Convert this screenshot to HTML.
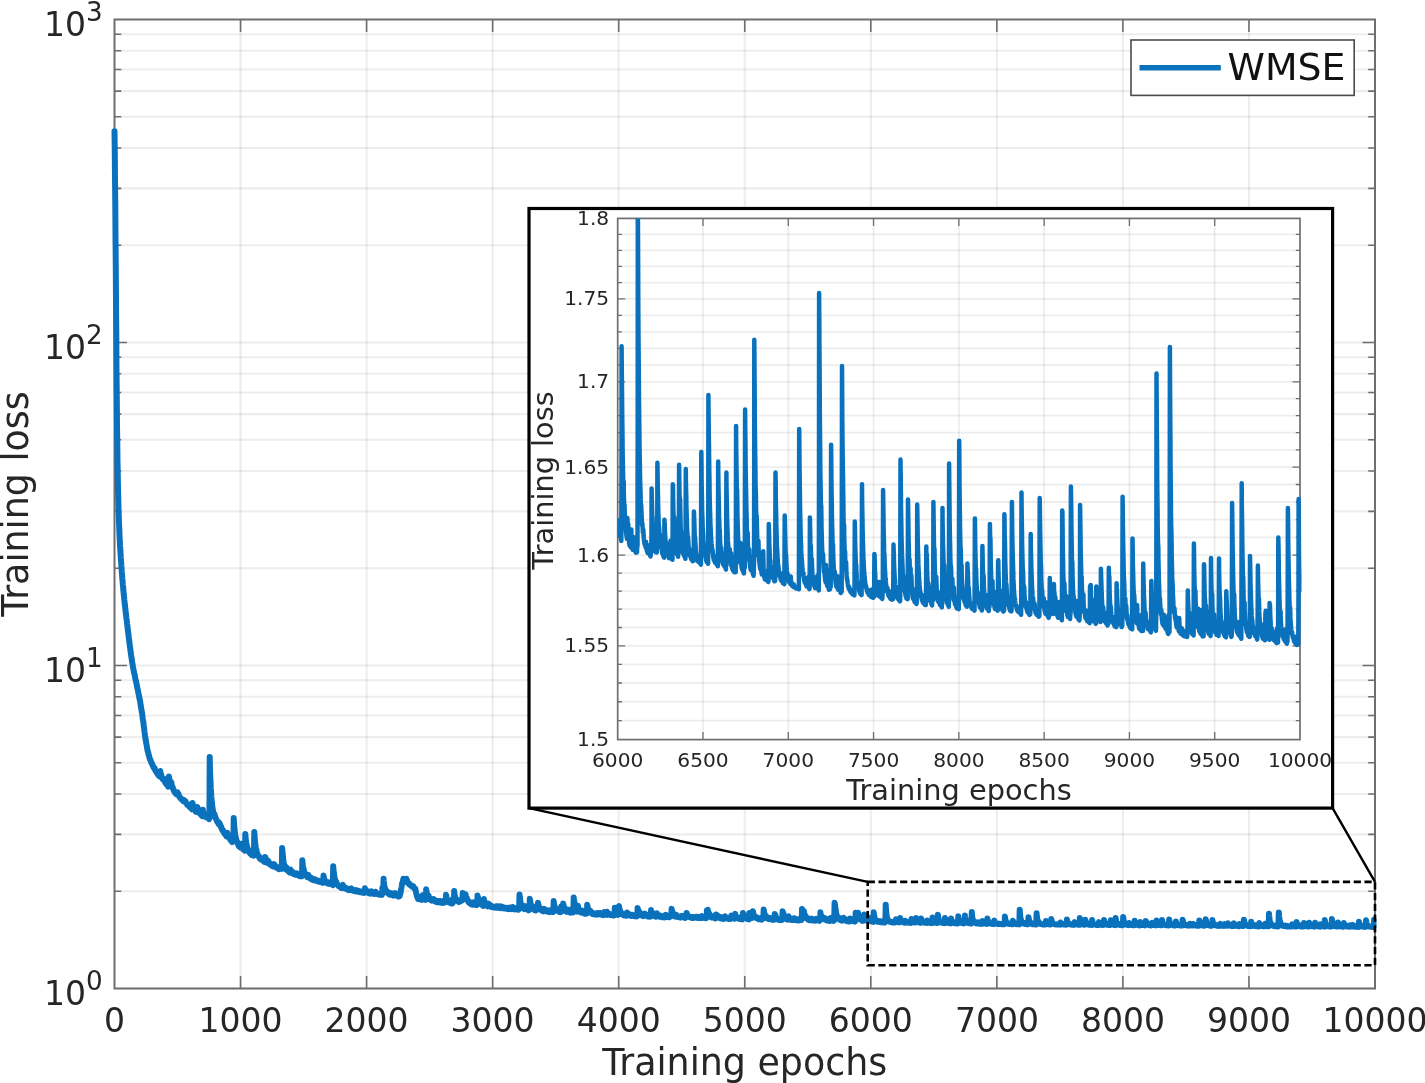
<!DOCTYPE html>
<html lang="en">
<head>
<meta charset="utf-8">
<title>Training loss (WMSE) vs. training epochs</title>
<style>
html,body{margin:0;padding:0;background:#fff;}
body{width:1425px;height:1083px;overflow:hidden;}
svg{display:block;font-family:"DejaVu Sans","Liberation Sans",sans-serif;filter:blur(0.5px);}
</style>
</head>
<body>
<svg width="1425" height="1083" viewBox="0 0 1425 1083">
<defs>
<clipPath id="cm"><rect x="110.5" y="19.5" width="1266.0" height="969.0"/></clipPath>
<clipPath id="ci"><rect x="617.7" y="218.4" width="683.8" height="521.2"/></clipPath>
</defs>
<rect width="1425" height="1083" fill="#fff"/>
<path d="M240.55 19.5V988.5M366.60 19.5V988.5M492.65 19.5V988.5M618.70 19.5V988.5M744.75 19.5V988.5M870.80 19.5V988.5M996.85 19.5V988.5M1122.90 19.5V988.5M1248.95 19.5V988.5" stroke="#000" stroke-opacity=".072" stroke-width="2.1" fill="none"/>
<path d="M114.5 988.50H1375.0M114.5 891.27H1375.0M114.5 834.39H1375.0M114.5 794.03H1375.0M114.5 762.73H1375.0M114.5 737.16H1375.0M114.5 715.53H1375.0M114.5 696.80H1375.0M114.5 680.28H1375.0M114.5 665.50H1375.0M114.5 568.27H1375.0M114.5 511.39H1375.0M114.5 471.03H1375.0M114.5 439.73H1375.0M114.5 414.16H1375.0M114.5 392.53H1375.0M114.5 373.80H1375.0M114.5 357.28H1375.0M114.5 342.50H1375.0M114.5 245.27H1375.0M114.5 188.39H1375.0M114.5 148.03H1375.0M114.5 116.73H1375.0M114.5 91.16H1375.0M114.5 69.53H1375.0M114.5 50.80H1375.0M114.5 34.28H1375.0" stroke="#000" stroke-opacity=".072" stroke-width="2.1" fill="none"/>
<path d="M240.55 988.5v-12.5M240.55 19.5v12.5M366.60 988.5v-12.5M366.60 19.5v12.5M492.65 988.5v-12.5M492.65 19.5v12.5M618.70 988.5v-12.5M618.70 19.5v12.5M744.75 988.5v-12.5M744.75 19.5v12.5M870.80 988.5v-12.5M870.80 19.5v12.5M996.85 988.5v-12.5M996.85 19.5v12.5M1122.90 988.5v-12.5M1122.90 19.5v12.5M1248.95 988.5v-12.5M1248.95 19.5v12.5M114.5 891.27h6.8M1375.0 891.27h-6.8M114.5 834.39h6.8M1375.0 834.39h-6.8M114.5 794.03h6.8M1375.0 794.03h-6.8M114.5 762.73h6.8M1375.0 762.73h-6.8M114.5 737.16h6.8M1375.0 737.16h-6.8M114.5 715.53h6.8M1375.0 715.53h-6.8M114.5 696.80h6.8M1375.0 696.80h-6.8M114.5 680.28h6.8M1375.0 680.28h-6.8M114.5 665.50h12.5M1375.0 665.50h-12.5M114.5 568.27h6.8M1375.0 568.27h-6.8M114.5 511.39h6.8M1375.0 511.39h-6.8M114.5 471.03h6.8M1375.0 471.03h-6.8M114.5 439.73h6.8M1375.0 439.73h-6.8M114.5 414.16h6.8M1375.0 414.16h-6.8M114.5 392.53h6.8M1375.0 392.53h-6.8M114.5 373.80h6.8M1375.0 373.80h-6.8M114.5 357.28h6.8M1375.0 357.28h-6.8M114.5 342.50h12.5M1375.0 342.50h-12.5M114.5 245.27h6.8M1375.0 245.27h-6.8M114.5 188.39h6.8M1375.0 188.39h-6.8M114.5 148.03h6.8M1375.0 148.03h-6.8M114.5 116.73h6.8M1375.0 116.73h-6.8M114.5 91.16h6.8M1375.0 91.16h-6.8M114.5 69.53h6.8M1375.0 69.53h-6.8M114.5 50.80h6.8M1375.0 50.80h-6.8M114.5 34.28h6.8M1375.0 34.28h-6.8" stroke="#6e6e6e" stroke-width="1.6" fill="none"/>
<rect x="114.5" y="19.5" width="1260.5" height="969.0" fill="none" stroke="#6e6e6e" stroke-width="2"/>
<g clip-path="url(#cm)"><polyline points="114.5,131.2 114.8,154 115,179.1 115.3,206.3 115.5,236.5 115.8,268.8 116,301.6 116.3,336.2 116.5,370 116.8,399.2 117,425.3 117.3,445 117.5,461.2 117.8,475.6 118,488.4 118.3,499.4 118.5,508.7 118.8,516.3 119,523.1 119.3,529.3 119.5,535.1 119.8,540.3 120,545.2 120.3,549.7 120.6,553.9 120.8,557.9 121.1,561.6 121.3,565.2 121.6,568.6 121.8,572 122.1,575.2 122.3,578.3 122.6,581.3 122.8,584.2 123.1,587 123.3,589.7 123.6,592.4 123.8,594.9 124.1,597.4 124.3,599.8 124.6,602.1 124.8,604.4 125.1,606.7 125.3,608.9 125.6,611 125.8,613.2 126.1,615.3 126.3,617.4 126.6,619.6 126.9,621.7 127.1,623.8 127.4,625.9 127.6,628 127.9,630.1 128.1,632.2 128.4,634.3 128.6,636.3 128.9,638.3 129.1,640.3 129.4,642.3 129.6,644.2 129.9,646.1 130.1,648 130.4,649.8 130.6,651.6 130.9,653.4 131.1,655.2 131.4,656.9 131.6,658.6 131.9,660.3 132.1,661.9 132.4,663.5 132.7,665 132.9,666.5 133.2,668 133.4,669.4 133.7,670.8 133.9,672.1 134.2,673.4 134.5,674.6 134.7,674.5 134.9,676.3 135.2,677.8 135.4,679.2 135.8,680.5 135.9,680.5 136.2,682.2 136.4,683.2 136.7,684.3 136.9,685.8 137.2,687.2 137.4,688.6 137.7,689.1 137.9,690.6 138.2,692 138.4,693.4 138.7,694.3 139,695.8 139.2,697.2 139.5,698.6 139.7,699.4 140,700.5 140.2,702.3 140.5,704 140.7,705.2 141,706.9 141.2,708.6 141.5,710.3 141.7,711.9 142,712.1 142.2,714.4 142.5,716.4 142.7,718.4 143,720.3 143.2,721.5 143.5,723.1 143.7,725.7 144,727.4 144.2,729.3 144.5,731.8 144.8,733.9 145,735.7 145.3,737.4 145.5,739.1 145.8,740.1 146,741.9 146.3,743.5 146.5,744.5 146.8,746.1 147,747.6 147.3,749 147.5,750.4 147.8,751.6 148.2,752 148.3,752.8 148.5,754.3 148.8,755.5 149,755.5 149.3,756.8 149.5,757.8 149.8,758.8 150,759.6 150.4,760.2 150.6,760.1 150.8,761.1 151.1,762 151.3,762.7 151.7,763.2 151.8,763.1 152.1,764 152.3,764.8 152.6,764.8 152.8,765.7 153.1,766.4 153.3,767 153.6,767.5 153.8,767.6 154.1,768.2 154.5,768.4 154.6,768 154.8,769 155.1,769.7 155.3,770.3 155.6,770.9 155.8,771.3 156.2,771.5 156.3,771.8 156.6,772.4 156.9,772.9 157.1,773.3 157.4,773.8 157.6,774.2 157.9,774.2 158.1,774.7 158.4,775.2 158.7,775.3 158.9,775.6 159.1,776.1 159.5,776.5 159.6,776.4 160,773 160.3,771 160.4,771.8 160.6,773.2 160.9,774.4 161.1,774.6 161.4,775.7 161.6,776.7 161.9,777.5 162.3,778.1 162.4,778 162.7,778.8 162.9,779.5 163.3,779.3 163.4,778.5 163.8,778.5 163.9,779.1 164.2,780.1 164.4,780.6 164.7,781 164.9,781.8 165.2,782.4 165.4,782.9 165.8,783.1 165.9,782.9 166.2,783.6 166.4,784.2 166.8,784.1 166.9,783.6 167.2,784.5 167.4,785.2 167.7,785.7 167.9,786.2 168.2,786.6 168.6,785.9 168.8,781.4 169,776.5 169.2,778.7 169.5,779.8 169.7,781.6 170,783 170.2,784.2 170.5,785.2 170.7,785.3 171.1,784.2 171.2,782 171.5,783.6 171.7,784.9 172,786.1 172.4,786.6 172.5,787.2 172.7,788.2 173.1,788.8 173.2,788.5 173.5,789.6 173.7,790.4 174,791 174.2,791.5 174.5,792 174.8,792 175,792.5 175.3,793 175.5,793.4 175.8,793.8 176.1,793.5 176.3,792.9 176.5,793.8 176.8,794.4 177,794.6 177.4,792.2 177.5,792.7 177.8,793.6 178,794.3 178.4,793.7 178.5,794.3 178.8,795.2 179,796 179.3,796.2 179.5,796.8 179.8,797.3 180,797.7 180.3,798.1 180.7,798 180.8,798.3 181.1,798.7 181.4,798.9 181.6,799.2 181.8,799.6 182.1,799.9 182.4,799.9 182.6,799.5 182.8,800.2 183.1,800.7 183.3,801.1 183.7,800.2 183.8,799.9 184.1,800.6 184.3,801.2 184.6,801.6 185,800.9 185.1,801.4 185.5,801.8 185.6,801.4 185.8,802.4 186.1,803.1 186.5,803.6 186.6,803.6 186.9,804.1 187.1,804.5 187.4,804.9 187.7,804.9 187.9,804.5 188.1,805.2 188.5,805 188.6,805.4 188.9,806 189.1,806.5 189.4,806.8 189.8,805.9 189.9,806.4 190.1,807.1 190.4,807.6 190.8,807.7 190.9,807.4 191.1,808 191.4,808.5 191.8,808.9 191.9,808.8 192.1,809.3 192.5,803 192.7,803.7 192.9,805.1 193.3,805.5 193.4,806.2 193.7,807.4 193.9,808.3 194.2,809 194.5,808.7 194.7,809.2 194.9,810.1 195.2,810.7 195.4,811.2 195.7,811.6 196.1,810.6 196.2,811.1 196.4,811.9 196.8,812 196.9,811.7 197.3,809.8 197.4,807.1 197.7,808.6 197.9,809.8 198.2,810.3 198.4,810.9 198.7,811.8 199,812.5 199.3,812.1 199.5,812.6 199.7,813.4 200,814 200.3,814.1 200.5,813.8 200.7,814.5 201.1,814.6 201.2,814.2 201.5,815 201.7,815.6 202,815.9 202.2,816.2 202.6,809.8 202.9,809.8 203,810.7 203.2,812.1 203.5,813.2 203.9,814.1 204,813.9 204.2,814.9 204.6,815.5 204.8,815.4 205,816.1 205.3,816.6 205.6,816.5 205.9,814.8 206,815.4 206.3,816.3 206.5,816.9 206.8,817.3 207,817.7 207.4,817 207.5,817.4 207.8,818 208.2,818.1 208.3,817.9 208.5,818.5 208.8,818.9 209,819.2 209.4,818.6 209.7,756.9 209.8,761.6 210,770 210.3,777.1 210.6,783.2 210.8,788.4 211.1,792.7 211.3,796.4 211.6,799.7 211.8,801.5 212.1,804.2 212.3,806.5 212.6,808.5 212.8,810.1 213.1,811.5 213.3,812.5 213.6,813.5 213.8,814.5 214.1,815.4 214.5,814.2 214.6,814.7 214.8,815.8 215.1,816.4 215.3,817.3 215.6,818.1 215.8,818.8 216.2,818.8 216.3,819.3 216.6,820.2 216.9,820.9 217.1,821.5 217.5,821.9 217.6,821.8 217.9,822.6 218.2,823.2 218.4,823.1 218.6,823.9 219,822.3 219.1,822.8 219.4,823.7 219.8,824.2 219.9,823.9 220.1,825 220.4,826 220.6,826.7 221,826.9 221.1,826.5 221.4,827.6 221.6,828.4 221.9,829.1 222.1,829.7 222.4,830.2 222.8,829.9 222.9,830.4 223.2,831.1 223.4,831.7 223.7,832 223.9,832.6 224.2,833.1 224.4,833.5 224.7,834 225,833.8 225.2,833.2 225.4,834.2 225.7,834.9 225.9,835.5 226.2,835.5 226.4,836.1 226.7,836.6 227.1,836.6 227.3,834.5 227.4,832.8 227.7,834.1 227.9,835.2 228.2,836 228.6,836.7 228.7,836.7 229,837.5 229.2,838.1 229.6,838.2 229.7,838.6 230,839.2 230.2,839.7 230.5,840.1 230.7,840.5 231.1,839.6 231.2,840 231.5,840.8 231.7,841.3 232,841.7 232.2,842.1 232.6,840 232.7,840.2 233,841 233.4,840.7 233.6,829.2 233.7,818.1 234,822.4 234.2,825.9 234.5,828.7 234.8,831.1 235,833.4 235.3,835.2 235.5,836.8 235.8,837.3 236,838.8 236.3,839.5 236.5,840.2 236.8,841.4 237.1,842.1 237.3,841.9 237.5,843 237.8,843.8 238,844.2 238.3,844.9 238.5,845.4 238.8,845.9 239,846.3 239.4,846.3 239.5,846 239.8,846.7 240,847.3 240.4,847 240.6,847.4 240.9,845.9 241.1,843.8 241.3,845 241.6,845.9 241.9,846.5 242.1,846.2 242.3,847.3 242.6,848.1 242.8,848.7 243.1,849.2 243.4,848.5 243.6,848.9 244,849.5 244.1,849.2 244.3,850.1 244.6,850.7 245,850 245.2,840.5 245.3,833.9 245.6,837.2 245.8,839.9 246.1,842.1 246.3,843.9 246.7,844.7 246.9,845.6 247.1,847.1 247.4,848.3 247.7,849 247.9,848.8 248.1,849.9 248.4,850.5 248.6,851 248.9,851.7 249.2,852.2 249.4,852.1 249.6,852.7 249.9,853.2 250.3,852.8 250.4,853.2 250.6,853.8 250.9,854.3 251.3,853.4 251.4,853.8 251.6,854.5 251.9,855 252.3,854.3 252.4,853 252.7,853.6 252.9,854.3 253.2,854.8 253.5,855.2 253.7,855 253.9,855.6 254.3,831.9 254.4,833.4 254.7,837.5 254.9,840.9 255.2,843.2 255.4,845.2 255.7,847.4 255.9,849.1 256.3,850.1 256.4,849.6 256.7,851.3 256.9,852.3 257.2,853.1 257.4,854.2 257.7,855 257.9,855.7 258.2,856.1 258.4,856.5 258.8,856.6 259,856.2 259.2,857.1 259.5,857.8 259.7,858.3 260.1,857.9 260.2,858.3 260.5,858.9 260.7,859.4 261.1,859.5 261.3,858.8 261.5,858.4 261.9,858.6 262,859.1 262.2,859.7 262.5,860.2 262.9,860.3 263,860 263.2,860.6 263.5,861.1 263.7,861.5 264.1,861.2 264.2,860.6 264.5,861.4 264.8,862 265.1,856.9 265.3,857.2 265.5,858.1 265.8,859.2 266,860.2 266.4,860.2 266.5,860.7 266.8,861.5 267,862.1 267.3,862.6 267.5,863 267.9,862.3 268.2,860.6 268.3,861.1 268.5,862 268.8,862.6 269,863.2 269.4,862.9 269.5,863.3 269.8,863.9 270,864.3 270.3,864.7 270.7,864.6 270.8,864.3 271.1,864.9 271.3,865.3 271.6,865.6 271.8,865.9 272.2,865.4 272.3,864.8 272.6,865.5 272.8,866 273.1,866.4 273.4,866.3 273.7,864.1 273.8,864.5 274.2,864.8 274.3,864.3 274.6,865.3 274.8,866 275.1,866.5 275.3,866.9 275.6,867.2 276,866.2 276.1,866.6 276.3,867.2 276.7,867.3 276.9,866.9 277.1,867.6 277.4,868.1 277.6,868.4 278,868.5 278.1,868.4 278.4,868.8 278.6,869 278.9,869.2 279.2,868.2 279.4,868.5 279.6,869 280,868.8 280.1,868.2 280.5,867 280.8,866.5 280.9,867.1 281.1,868.1 281.4,868.7 281.6,868.8 282,858.3 282.1,848 282.4,851 282.7,853.7 282.9,856.6 283.2,859 283.4,861 283.7,862.6 283.9,863.5 284.2,864.8 284.4,865.8 284.7,866.7 285,866.8 285.2,867.3 285.4,868.1 285.7,868.8 285.9,869.3 286.3,867.4 286.4,867.3 286.7,868.3 286.9,869.1 287.3,868.9 287.4,869.3 287.7,870.1 287.9,870.6 288.2,871.1 288.6,870.3 288.7,870.7 289,871.4 289.2,871.8 289.5,872.2 289.7,872.5 290.1,872.6 290.3,871 290.5,869.5 290.7,870.4 291,871 291.3,871.4 291.5,871.2 291.7,871.9 292,872.5 292.2,872.9 292.6,871.8 292.7,872.3 293,873 293.2,873.5 293.5,873.9 293.7,874.1 294.1,874 294.2,873.6 294.5,874.1 294.9,873.2 295,873.6 295.3,874.3 295.6,874.3 295.8,874.5 296,874.9 296.4,873.9 296.6,873.4 296.8,873.8 297,874.4 297.3,874.8 297.7,874.6 297.8,874 298,874.8 298.3,875.3 298.7,875.4 298.8,875.6 299.2,875.9 299.3,875.8 299.5,876.1 299.9,875.9 300,875.4 300.3,876 300.7,875.1 300.8,875.6 301.1,876.2 301.4,876.1 301.6,875.5 301.8,876.3 302.2,868.2 302.3,860.2 302.6,863.1 302.8,865.5 303.1,866.8 303.3,868.7 303.7,869.1 303.8,869.8 304.1,871.1 304.3,872.1 304.6,872.9 304.8,873.6 305.1,874.3 305.5,874.4 305.6,873.9 305.8,874.9 306.1,875.6 306.5,875.8 306.6,875.3 306.9,876.2 307.1,876.7 307.4,877.1 307.7,876.4 307.9,876.8 308.2,875.4 308.4,875 308.6,876.1 308.9,876.9 309.1,877.4 309.5,877.4 309.6,877 309.9,877.7 310.1,878.2 310.4,878.5 310.6,878.8 310.9,879 311.3,877.9 311.4,878.3 311.6,878.8 311.9,879.2 312.1,879.5 312.4,879.7 312.8,879.5 312.9,879.2 313.2,879.6 313.4,879.9 313.7,880.1 313.9,880.3 314.3,880.2 314.4,880.1 314.8,879.4 314.9,879.6 315.3,879.8 315.4,879.7 315.7,880.1 315.9,880.4 316.2,880.6 316.4,880.8 316.8,880.2 316.9,880.4 317.2,880.8 317.4,881 317.7,881.2 317.9,881.4 318.3,880.5 318.4,880.8 318.7,881.2 319,881.5 319.2,881.7 319.5,881.8 319.8,881.5 320,881.1 320.2,881.6 320.5,881.9 320.7,882.1 321,882.2 321.3,882.1 321.5,881.8 321.7,882.2 322,882.4 322.2,882.6 322.5,882.7 322.7,882.8 323.1,881.4 323.4,878.6 323.5,875.5 323.7,877.1 324,878.3 324.2,879.2 324.6,879.6 324.8,880.1 325,880.8 325.3,881.4 325.5,881.8 325.8,882.2 326.1,882.2 326.3,882 326.5,882.5 326.8,882.9 327,883.1 327.3,883.4 327.7,882.2 327.8,882.6 328,883.2 328.4,883.2 328.5,883.4 328.8,883.8 329.2,883.5 329.3,882.9 329.5,883.6 329.9,883.2 330,883.5 330.4,882.4 330.5,882.8 330.9,882.4 331.1,882.8 331.3,883.5 331.6,884 331.8,884.4 332.2,884.7 332.3,884.6 332.6,884.9 332.8,885.2 333.2,866.2 333.3,867.9 333.6,870.8 333.8,872.7 334.1,874.5 334.3,876.4 334.6,877.7 334.8,879.1 335.2,880.2 335.3,880 335.6,881.3 336,882.2 336.1,882 336.5,882 336.6,882.6 336.9,883.4 337.1,884.1 337.4,884.6 337.6,885 338,885.2 338.1,885.4 338.4,885.8 338.6,886.1 338.9,886.4 339.2,886.1 339.4,886.3 339.6,886.7 340,886.6 340.1,886.9 340.4,887.2 340.6,887.4 340.9,887.6 341.1,887.8 341.5,887.5 341.6,887.1 341.9,887.6 342.1,888 342.5,887 342.8,885.3 342.9,884.9 343.2,886 343.4,886.5 343.7,886.9 343.9,887.5 344.2,887.9 344.5,887.9 344.7,887.5 344.9,888.1 345.2,888.5 345.5,888.4 345.7,887.9 345.9,888.5 346.2,888.9 346.6,888.1 346.7,888.5 346.9,889 347.2,889.4 347.4,889.6 347.7,889.8 348.1,889.6 348.2,889.3 348.4,889.7 348.7,889.9 349,890.1 349.2,890.2 349.6,889.8 349.7,889.3 350,889.8 350.3,888.8 350.5,889.2 350.8,888.8 351,889.1 351.3,888.5 351.5,888.9 351.9,889.6 352,889.5 352.2,890 352.5,890.4 352.9,890.2 353,889.9 353.2,890.4 353.5,890.7 353.7,890.9 354.1,890.1 354.2,890.4 354.5,890.8 354.8,891.1 355.1,890.2 355.3,890.5 355.5,891 355.8,891.3 356,891.5 356.3,891.6 356.6,891.4 356.9,890.7 357,890.3 357.3,890.8 357.5,891.1 357.9,891 358,890.7 358.3,891.2 358.5,891.5 358.8,891.7 359,891.9 359.4,891.3 359.5,891.5 359.8,891.8 360,892.1 360.3,892.2 360.7,891.9 360.8,891.5 361.1,891.9 361.3,892.2 361.7,892.2 361.8,891.9 362.1,892.2 362.3,892.5 362.7,892.2 362.8,892.4 363.1,892.6 363.4,892.4 363.6,892 363.8,892.4 364.1,892.7 364.3,892.9 364.7,892.4 365,888.2 365.1,888.8 365.3,889.8 365.7,889.5 365.8,890.1 366.1,890.9 366.5,890.7 366.6,891.1 366.9,891.8 367.1,892.2 367.5,891.2 367.6,891.6 367.9,892.3 368.1,892.7 368.4,892.9 368.6,893.1 369,892.4 369.1,892.6 369.4,893 369.6,893.3 370,892.7 370.1,892.9 370.4,893.3 370.6,893.5 370.9,893.6 371.3,892.5 371.4,891.2 371.6,892.1 371.9,892.6 372.1,893 372.5,893.2 372.7,893.1 372.9,893.4 373.3,892.6 373.4,892.9 373.7,893.4 373.9,893.7 374.2,893.9 374.4,894 374.8,893.5 374.9,892.9 375.3,893.2 375.5,891.7 375.7,892.2 375.9,892.9 376.2,893.4 376.4,893.7 376.8,893.3 376.9,893.6 377.2,893.9 377.4,894.1 377.7,894.3 377.9,894.4 378.3,893.9 378.4,894.1 378.7,894.3 379,894.5 379.2,894.6 379.6,894.3 379.7,893.8 380,894.2 380.2,894.5 380.6,894.2 380.7,894.4 381,894.6 381.2,894.8 381.5,894.9 381.9,894.8 382,894.7 382.4,888.1 382.5,888.8 382.7,890 383,890.9 383.2,891.7 383.6,878.8 383.7,880.3 384,882.9 384.2,885 384.5,886.7 384.8,888 385.1,888.5 385.3,889.2 385.5,890.3 385.9,890.9 386,890.7 386.3,891.6 386.5,892.3 386.9,891.1 387,891.5 387.3,892.2 387.7,892.5 387.8,892.2 388,893 388.3,893.5 388.5,893.9 388.9,893.8 389,893.4 389.3,894 389.5,894.4 389.9,894.3 390,894.5 390.3,894.8 390.7,894.6 390.9,893.6 391.1,893.2 391.3,894 391.7,893.5 391.8,893.9 392.1,894.5 392.3,895 392.7,895 392.8,894.7 393.1,895.2 393.3,895.5 393.7,894.8 393.8,895.1 394.2,895.1 394.3,894.7 394.7,893.2 394.8,893.6 395.2,893.1 395.3,893.6 395.6,894.4 395.8,894.9 396.1,895.3 396.3,895.6 396.7,895.8 396.9,895.7 397.1,895.9 397.5,895.6 397.6,895.8 397.9,896.1 398.1,896.3 398.4,896.5 398.7,896.1 398.9,895.5 399.1,896 399.5,896.1 399.8,895.7 400,894.3 400.3,893.6 400.5,892.6 400.8,891.5 401,889.3 401.3,888.3 401.5,887.2 401.8,885.5 402,884 402.3,883.3 402.5,882.6 402.8,882 403,880.5 403.3,879.7 403.4,878.8 403.8,879.5 403.9,879.4 404.2,880.2 404.4,880.8 404.7,881.2 404.9,881.6 405.3,880.9 405.4,881.3 405.7,881.9 406.1,882 406.3,880.2 406.4,878.7 406.7,879.8 407.1,880.7 407.2,880.6 407.4,881.5 407.7,882.2 407.9,882.7 408.2,882.9 408.4,883.3 408.7,883.7 409,884.1 409.3,884.1 409.5,883.7 409.7,884.3 410,884.8 410.2,885.1 410.5,885.4 410.8,885.4 411,885.1 411.2,885.6 411.6,886 411.7,885.9 412,886.3 412.2,886.6 412.5,886.9 412.7,887.1 413,887.3 413.4,886.2 413.5,886.6 413.7,887.1 414,887.7 414.2,888.2 414.6,888.4 414.8,888.9 415.1,888.7 415.3,888.7 415.5,890.2 415.8,891.2 416,892.2 416.3,893.4 416.5,894.5 416.8,895 417,896.1 417.3,897 417.5,897.7 417.8,898.3 418,898.8 418.4,898.5 418.5,898.7 418.8,899 419,899.2 419.4,899.1 419.5,899 419.8,899.2 420,899.4 420.3,899.5 420.7,899 420.8,899.1 421.1,899.4 421.3,899.6 421.6,899.7 421.8,899.8 422.2,899.3 422.3,898.8 422.7,895.3 422.8,895.8 423.2,895.5 423.3,896.2 423.6,897.2 423.8,897.9 424.2,898 424.3,897.6 424.6,898.4 424.8,898.9 425.2,899.3 425.3,899.2 425.6,899.5 425.8,899.8 426.2,889.2 426.3,890.3 426.6,892.2 426.9,893.7 427.1,894.8 427.4,895.5 427.6,896.1 427.9,897 428.1,897.6 428.5,896.9 428.6,895.6 428.9,896.7 429.1,897.6 429.4,898.3 429.6,898.8 430,899.1 430.1,899.1 430.4,899.5 430.6,899.9 430.9,900.1 431.1,900.3 431.4,900.5 431.8,899.5 431.9,899.8 432.1,900.3 432.5,900.1 432.7,899.4 433,899.5 433.3,899.4 433.4,899 433.7,899.9 433.9,900.5 434.2,900.9 434.5,900.5 434.7,899.9 434.9,900.6 435.2,901.1 435.4,901.5 435.7,901.7 436.1,901.4 436.2,900.9 436.4,901.4 436.7,901.8 436.9,902 437.2,902.2 437.6,901.8 437.8,901.2 437.9,901.4 438.2,901.7 438.4,902 438.8,901.2 439,901.5 439.2,901.9 439.5,902.2 439.8,901 440,901.4 440.2,902 440.5,902.3 440.7,902.6 441,902.7 441.3,902.5 441.5,902.2 441.7,902.5 442,902.8 442.4,902.7 442.5,902.8 442.9,901.7 443.1,901.2 443.2,901.5 443.5,902 443.7,902.4 444,902.6 444.4,902.2 444.5,901.7 444.8,902.3 445.1,902.2 445.3,901.8 445.6,902.2 445.9,898.6 446,894.8 446.3,895.9 446.5,897.4 446.8,898.5 447,898.9 447.3,899.8 447.5,900.5 447.8,901 448.2,900.8 448.3,901.2 448.5,901.7 448.8,902.1 449,902.4 449.4,902.4 449.5,902.2 449.8,902.6 450,902.8 450.3,903 450.5,903.2 450.9,902.9 451.1,903.1 451.3,903.3 451.7,902.9 451.8,903.1 452.1,903.3 452.3,903.5 452.7,903 452.9,898.9 453.1,899.5 453.3,900.5 453.6,901.2 454,901.2 454.2,891 454.3,892.2 454.6,894.3 454.8,896 455.1,897.3 455.5,898.1 455.6,897.9 455.8,899.1 456.1,899.7 456.3,900.2 456.7,900.6 456.9,900.2 457.1,900.8 457.5,900 457.6,900.5 457.9,901.1 458.1,901.5 458.4,901.8 458.6,902 459,900.9 459.1,901.1 459.4,901.5 459.6,901.7 460,901.7 460.3,901.1 460.4,900.4 460.6,900.8 460.9,900.9 461.3,900.8 461.5,900.4 461.6,900 461.9,900.1 462.3,900.1 462.5,896.6 462.7,893.1 463,894.2 463.2,894 463.4,895.2 463.7,896 464,896.2 464.2,896.6 464.4,897.3 464.7,897.8 465,898.1 465.2,897.9 465.5,894.3 465.7,894.9 465.9,896.1 466.2,897.1 466.6,897.8 466.7,897.7 466.9,898.7 467.3,899.5 467.4,899.4 467.7,900.3 467.9,901 468.2,901.5 468.4,902 468.7,902.4 469.1,901.5 469.2,902 469.5,902.7 469.7,903.2 470.1,902.6 470.2,903 470.5,903.6 470.7,904 471.1,902.9 471.2,903.3 471.5,903.9 471.7,904.3 472,904.6 472.4,904.6 472.5,904.4 472.7,904.7 473.1,904.8 473.2,904.7 473.6,903.6 473.7,902.2 474,902.8 474.4,902.8 474.5,903.1 474.8,903.7 475,903.7 475.3,904.2 475.5,904.5 475.8,904.7 476,904.9 476.3,905.1 476.6,904 476.8,904.3 477,904.8 477.4,900.5 477.5,895.6 477.8,896.9 478,897.4 478.3,899 478.5,900.2 478.8,901.2 479,902 479.4,902.2 479.5,901.8 479.8,902.7 480,903.4 480.3,903.9 480.7,904.1 480.8,903.8 481.1,904.4 481.3,904.7 481.7,904.7 481.8,904.3 482.1,904.8 482.3,905.2 482.6,905.5 482.8,905.7 483.2,905.2 483.3,905.4 483.6,905.7 484,899.1 484.1,899.9 484.3,901.2 484.6,902.2 484.8,902.3 485.1,903.2 485.3,903.9 485.6,904.4 485.8,904.9 486.1,905.2 486.5,905 486.6,905.2 486.9,905.6 487.1,905.9 487.4,906.1 487.6,906.3 488,904.9 488.1,903.4 488.4,904.2 488.6,904.7 488.9,905.2 489.1,905.6 489.4,905.9 489.8,904.7 489.9,905.1 490.1,905.8 490.4,906.2 490.6,906.5 490.9,906.7 491.3,905.8 491.4,906.1 491.6,906.6 491.9,906.9 492.1,907.1 492.4,907.2 492.8,906.5 492.9,906.7 493.2,907.1 493.4,907.3 493.7,907.4 493.9,907.5 494.3,907.2 494.4,907.4 494.7,907.5 495,907.3 495.2,907.4 495.4,907.6 495.7,907.7 496.1,906.6 496.2,906.3 496.4,906.8 496.7,907.2 497.1,906.8 497.2,906.2 497.4,906.9 497.7,907.3 497.9,907.6 498.3,906.4 498.4,906.8 498.7,907.3 499,907.7 499.3,907.4 499.5,906.9 499.7,907.5 500,907.8 500.2,908.1 500.6,906.7 500.7,906.3 501,906.9 501.3,907 501.5,907.2 501.7,907.6 502,907.9 502.2,908.1 502.6,907.5 502.7,906.9 503,907.5 503.4,907.4 503.5,907.7 503.7,908.1 504,908.3 504.2,908.5 504.6,908.5 504.8,908.3 505,908.5 505.4,908.2 505.5,907.7 505.8,908.2 506,908.5 506.4,908.5 506.5,908.6 506.8,908.8 507,908.9 507.4,908.5 507.5,907.9 507.8,908.4 508,908.7 508.3,908.9 508.5,909.1 508.9,908 509,908.3 509.4,907.9 509.7,907.8 509.8,907.5 510,908.1 510.3,908.5 510.5,908.8 510.8,909 511.2,908.7 511.3,908.4 511.6,908.8 511.8,909.1 512.2,908.6 512.4,907 512.6,907.4 512.9,907.6 513.1,907.2 513.3,908 513.6,908.5 513.8,908.9 514.1,909.1 514.3,909.3 514.7,909.1 514.8,909.2 515.1,909.4 515.3,909.5 515.7,909.1 515.8,909.3 516.2,908.4 516.3,908.6 516.7,908.8 516.9,908.7 517.1,909 517.4,909.3 517.6,909.5 518,909.1 518.1,909.3 518.4,909.5 518.7,908.3 518.9,908.7 519.1,909.2 519.5,894.5 519.6,895.9 519.9,897 520.1,899.4 520.4,901.4 520.6,902.9 520.9,904.1 521.3,904.3 521.4,904.9 521.6,905.9 522,906.6 522.1,906.5 522.4,907.3 522.6,907.8 523,907.6 523.2,907.9 523.5,908.2 523.7,908 523.9,908.6 524.2,909 524.5,908.2 524.8,905.9 524.9,906.4 525.2,907.2 525.5,907.8 525.7,907.7 525.9,908.4 526.3,908.1 526.4,908.5 526.7,909 526.9,909.4 527.3,909.2 527.4,908.8 527.7,909.4 527.9,909.8 528.2,910 528.4,910.2 528.8,909.2 529,909.5 529.2,910 529.6,909.1 529.8,898.7 530,899.8 530.2,901.3 530.5,902.7 530.7,904.1 531,904.5 531.2,905.7 531.5,906.6 531.7,907.3 532,907.9 532.4,907.9 532.5,907.5 532.7,908.3 533,908.9 533.4,907.9 533.5,908.4 533.7,909.1 534,909.3 534.2,909.7 534.5,910 534.8,910.3 535,910.4 535.4,910 535.5,910.2 535.8,910.5 536.1,907.6 536.3,906.4 536.5,907.5 536.8,908.3 537,908.9 537.3,909.4 537.6,908.9 537.9,906 538,902.7 538.3,904.2 538.5,905.1 538.8,905.9 539,906.9 539.3,907.7 539.7,907.5 539.8,908 540,908.7 540.3,909.3 540.7,909.1 540.8,909.4 541.1,909.9 541.3,910.2 541.6,910.5 541.8,910.7 542.2,910.4 542.3,910.6 542.6,910.8 542.8,911 543.1,911.2 543.3,911.3 543.7,910 543.8,909.1 544.2,909.2 544.3,908.8 544.6,909.6 544.8,910.2 545.1,910.6 545.3,910.9 545.7,910.5 545.8,909.8 546.1,910.5 546.3,911 546.6,911.3 547,911.4 547.1,911.3 547.4,911.5 547.6,911.7 547.9,911.8 548.2,911.3 548.4,910.7 548.6,911.3 548.9,911.6 549.2,911.4 549.4,910.9 549.6,911.4 549.9,911.7 550.1,912 550.5,910.8 550.6,910.4 551,910.6 551.1,910.2 551.4,910.9 551.6,911.4 552,910.9 552.1,911.2 552.4,911.6 552.6,911.9 552.9,912.1 553.3,912 553.5,906.4 553.7,901.1 553.9,903 554.2,904.6 554.4,905.9 554.7,906.9 554.9,906.9 555.2,908 555.4,908.8 555.7,909.4 555.9,909.9 556.2,910.3 556.6,909.6 556.7,910 557.1,909.5 557.2,909.9 557.4,910.4 557.8,910.5 557.9,910.8 558.2,911.1 558.4,911.4 558.8,911.4 559,911.2 559.2,911.6 559.5,911.9 559.7,912.1 560.1,912 560.2,911.8 560.5,912.1 560.8,911.8 561.1,909.3 561.2,906.6 561.5,907.8 561.7,908.7 562,908.8 562.2,909.7 562.5,910.3 562.9,910.6 563.1,906.9 563.2,903.5 563.5,905.1 563.7,906.4 564,907.5 564.2,908.1 564.5,908.9 564.8,909.6 565,910.1 565.3,910.6 565.6,910.9 565.8,910.8 566,911.2 566.3,911.6 566.5,911.8 566.9,911.6 567,911.2 567.4,910.7 567.5,909.5 567.8,910.2 568,910.8 568.4,911 568.5,910.7 568.8,911.3 569,911.8 569.3,912.1 569.5,912.3 569.9,912.1 570,911.7 570.3,912.2 570.5,912.6 570.9,912.3 571.1,912.5 571.4,909.4 571.6,909.8 571.8,910.5 572.1,911.1 572.4,911 572.6,910.6 572.8,911.4 573.1,911.9 573.3,912.3 573.7,897.5 573.8,898.9 574.1,900 574.3,901.8 574.6,903.7 574.8,905.3 575.1,906.6 575.5,907.4 575.6,907.1 575.8,908.4 576.1,909 576.3,909.5 576.6,910.3 576.9,910.9 577.1,911.3 577.4,911.7 577.7,905.8 577.9,905.8 578.1,907.4 578.4,908.6 578.6,909.5 579,909.9 579.1,909.5 579.4,910.5 579.6,911.2 579.9,911.7 580.3,911.8 580.4,911.5 580.6,912.1 580.9,912.5 581.3,910.5 581.4,910.9 581.8,911 581.9,910.5 582.1,911.4 582.5,911.6 582.6,912 582.9,912.5 583.2,912.8 583.5,912.8 583.7,912.4 583.9,912.9 584.2,913.2 584.4,913.5 584.8,913.1 584.9,912.5 585.2,913.1 585.4,913.5 585.8,913.2 585.9,912.6 586.2,913.2 586.4,913.6 586.8,913.5 587.1,909.2 587.2,904.8 587.4,906.1 587.7,907.2 587.9,908.5 588.2,909.5 588.4,910.3 588.8,910.5 589,910 589.2,911.1 589.5,911.8 589.8,911.4 590.1,910.5 590.2,911 590.5,911.8 590.8,912 591,911.6 591.2,912.4 591.5,912.9 591.7,913.3 592,913.6 592.2,913.8 592.6,912.8 592.7,913.1 593,913.6 593.2,913.9 593.5,914.1 593.7,914.2 594.1,913.6 594.2,913.8 594.5,914.1 594.9,914.2 595,914.1 595.3,914.4 595.5,914.5 595.9,914.3 596,914 596.3,914.3 596.5,914.5 596.8,914.6 597.1,913.8 597.3,912.9 597.5,912.9 597.8,913.4 598,913.7 598.4,913.7 598.5,913.5 598.8,913.9 599,914.2 599.4,913.3 599.5,913.6 599.9,914 600,913.8 600.3,914.3 600.7,913.2 600.8,913.6 601.2,913.8 601.3,913.4 601.6,914.1 601.8,914.5 602.1,914.7 602.3,914.9 602.7,914.6 602.8,914.1 603.1,914.5 603.3,914.8 603.6,915 604,912.7 604.1,911.9 604.3,912.8 604.7,913 604.8,912.6 605.1,913.4 605.3,913.9 605.6,914.3 606,914.4 606.1,914.3 606.3,914.6 606.6,914.8 607,911.8 607.1,911.9 607.4,912.3 607.6,913 607.9,913.5 608.1,913.8 608.5,913.6 608.6,913.8 608.9,914.2 609.1,914.5 609.5,914.4 609.6,914.6 609.9,914.8 610.1,915 610.4,915.1 610.8,914.8 610.9,914.4 611.1,914.8 611.4,915.1 611.8,915 611.9,914.7 612.1,915 612.4,915.2 612.6,915.4 613,914.8 613.2,915 613.4,915.3 613.7,915.4 614,914.8 614.2,915 614.4,915.3 614.8,907.8 614.9,908.7 615.2,910.1 615.4,911.2 615.7,912.1 615.9,912.5 616.2,912.9 616.4,913.4 616.8,913.1 616.9,913.5 617.2,914 617.4,914.4 617.7,914.7 617.9,914.9 618.3,914.3 618.6,910.5 618.7,906.6 619,906.1 619.2,907.3 619.5,908.9 619.7,910.2 620,911.1 620.3,911.6 620.5,911.2 620.7,912.2 621,912.9 621.2,913.5 621.5,913.9 621.9,913.8 622,913.4 622.2,914 622.5,914.4 622.7,914.7 623,915 623.4,914.6 623.5,914.1 623.7,914.7 624,915 624.2,915.3 624.5,915.5 624.9,915.1 625,914.5 625.3,915.1 625.6,915.2 625.8,915 626,915.4 626.3,915.6 626.5,915.8 626.9,915.7 627.1,912.5 627.3,912.9 627.5,913.6 627.9,913.5 628,913.9 628.3,914.4 628.5,914.8 628.8,915.1 629.2,914.9 629.3,914.4 629.5,915 629.9,914.3 630,914.7 630.3,915.2 630.5,915.6 630.8,915.8 631.1,916 631.4,915.7 631.7,915 631.8,915.2 632.1,915.5 632.3,915.7 632.7,915.4 632.8,914.9 633.1,915.4 633.4,915.7 633.6,915.6 633.8,915.9 634.1,916.1 634.3,916.2 634.6,916.3 635,916.1 635.1,915.9 635.3,916.1 635.6,916.3 635.8,916.4 636.1,916.5 636.3,916.5 636.7,915.7 636.9,915.9 637.1,916.2 637.5,912.1 637.6,907.9 637.9,909.5 638.1,910.4 638.4,911.2 638.7,910.6 638.9,911.2 639.2,912 639.4,911.8 639.6,912.8 639.9,913.5 640.1,914.1 640.4,914.5 640.6,914.9 641,914.1 641.1,914.5 641.4,915 641.6,915.4 642,915.4 642.1,915.2 642.4,915.6 642.6,915.9 642.9,916.1 643.3,915 643.4,915.3 643.7,915.8 644,914.9 644.2,913.7 644.5,913.9 644.7,913.6 644.9,914.4 645.2,915 645.4,915.4 645.8,914.3 645.9,914.8 646.3,915.1 646.4,914.8 646.7,915.5 646.9,915.9 647.2,916.2 647.4,916.4 647.8,915.7 647.9,916 648.2,916.3 648.6,916.1 648.7,915.7 649,916.2 649.2,916.5 649.6,916.1 649.7,916.3 650,916.6 650.2,916.7 650.6,916.6 650.7,916.3 651.1,910.1 651.2,910.8 651.5,912 651.9,912 652,912.6 652.2,913.6 652.5,914.3 652.9,914.2 653,914.6 653.2,915.2 653.5,915.6 653.7,915.9 654.1,915.4 654.2,915.6 654.6,915.9 654.8,915.8 655,916.2 655.3,916.4 655.5,916.6 655.8,916.7 656.1,915.4 656.3,915.7 656.6,916.1 656.9,913.3 657,913.8 657.3,914.6 657.6,914.6 657.8,915 658,915.5 658.3,915.9 658.7,916.1 658.8,916 659,916.3 659.3,916.6 659.5,916.7 659.8,916.8 660.2,916.2 660.3,915.5 660.5,916.2 660.8,916.6 661.1,916.8 661.3,917 661.6,917.1 661.9,916.7 662.1,916.8 662.3,917 662.7,916.5 662.8,916.7 663.1,917 663.3,917.1 663.7,916.8 663.8,916.9 664.1,917.1 664.3,917.3 664.6,917.4 664.8,917.4 665.2,916.8 665.5,915.5 665.6,914.8 665.8,915.5 666.1,915.9 666.5,915.8 666.6,915.3 666.9,916 667.1,916.4 667.4,916.7 667.6,916.9 668,916.8 668.1,917 668.4,917.1 668.6,917.2 668.9,917.3 669.2,917.1 669.4,916.9 669.6,917.1 670,916.2 670.3,915.2 670.4,915.5 670.6,916 671,916.1 671.1,915.9 671.5,912.5 671.6,908.7 671.9,910.2 672.1,911.4 672.5,911.5 672.6,912.2 672.9,913.3 673.2,914.1 673.4,914.7 673.7,914.9 673.9,915.4 674.2,915.7 674.4,916 674.7,916.3 674.9,916.5 675.3,916 675.5,916 675.7,915.7 676.1,915.5 676.2,914.8 676.4,915.7 676.7,916.2 676.9,916.6 677.2,916.8 677.4,917 677.8,916.8 677.9,917 678.2,917.1 678.6,916.9 678.7,916.6 679,917 679.3,916.8 679.5,917 679.7,917.3 680,917.4 680.2,917.5 680.6,916.3 680.7,916.6 681,917.1 681.3,916.8 681.5,916.3 681.7,916.6 682.1,916.4 682.2,915.9 682.5,916.5 682.9,916.8 683,916.7 683.2,917.1 683.5,917.3 683.7,917.5 684.1,917.1 684.2,917.3 684.5,917.5 684.8,917.6 685,917.7 685.3,917.8 685.6,916.7 685.8,916.9 686.1,917.2 686.3,917 686.6,912.9 686.8,913.4 687,914.3 687.3,915 687.5,915.5 687.8,915.6 688,916.1 688.3,916.5 688.7,916.4 688.8,916.1 689,916.6 689.3,916.9 689.5,917.2 689.9,917 690,916.6 690.3,917.1 690.5,917.4 690.9,916.8 691.1,917 691.3,917.4 691.6,917.6 691.8,917.7 692.1,917.9 692.4,917 692.6,917.3 692.8,917.6 693.1,917.8 693.4,917.1 693.6,917.3 693.8,917.7 694.1,917.8 694.5,917.6 694.6,917.3 694.8,917.6 695.2,917.4 695.3,917 695.6,917.3 696,916.9 696.1,917.1 696.3,917.5 696.7,917.1 696.9,917.3 697.1,917.6 697.4,917.8 697.6,918 697.9,918 698.2,917.5 698.4,916.9 698.6,917.4 698.9,917.8 699.2,917.6 699.4,917.8 699.6,918 699.9,918.1 700.3,917.8 700.4,917.3 700.6,917.7 701,917.7 701.1,917.5 701.4,917.8 701.6,918 702,916.1 702.1,916.4 702.4,916.9 702.8,917 702.9,916.6 703.2,917.2 703.4,917.5 703.7,917.8 703.9,917.9 704.3,917.4 704.4,916.6 704.7,917.3 704.9,917.7 705.2,918 705.4,918.1 705.8,916.9 705.9,917.3 706.2,917.7 706.4,918 706.8,914.2 706.9,910.4 707.2,911.3 707.4,912.2 707.8,909.8 707.9,910.6 708.2,911.5 708.4,912.4 708.7,913.5 709,914.3 709.3,914.6 709.5,914.1 709.7,915.1 710,915.8 710.2,916.1 710.5,916.4 710.7,916.8 711,917.1 711.2,917.3 711.6,917 711.7,916.5 712,917.1 712.4,917.1 712.5,916.7 712.7,917.2 713.1,917 713.2,916.4 713.5,917.1 713.7,917.6 714.1,917.2 714.2,917.5 714.5,917.8 714.8,918.1 715,918.2 715.3,918.4 715.6,918.1 715.8,918.2 716.1,914.6 716.3,915 716.5,915.7 716.9,915.1 717,915.6 717.3,916.4 717.5,916.9 717.8,917.3 718.2,917.3 718.3,917 718.5,917.5 718.9,916.5 719,916.9 719.3,917.5 719.5,917.9 719.9,917.5 720,916.9 720.3,917.6 720.5,918 720.8,918.3 721.1,918.4 721.3,918.5 721.7,917.3 721.8,917.7 722.1,918.1 722.3,918.4 722.6,918.6 722.8,918.7 723.2,918.6 723.3,918.5 723.6,918.6 723.8,918.8 724.2,918 724.5,917.6 724.6,916.9 725,916.8 725.1,916.2 725.3,917.1 725.6,917.5 725.8,917.8 726.1,918.1 726.5,918.2 726.6,918 726.9,918.3 727.1,918.5 727.5,918.4 727.6,918.5 727.9,918.7 728.1,918.8 728.4,918.9 728.6,918.9 729,918.8 729.1,918.6 729.4,918.8 729.6,918.9 729.9,919 730.3,917.6 730.4,918 730.6,918.4 730.9,918.7 731.3,915.4 731.4,915.9 731.6,916.6 731.9,917.2 732.1,917.6 732.5,917.3 732.6,916.8 732.9,917.5 733.2,918 733.5,918 733.7,917.8 733.9,918.2 734.2,918.5 734.4,918.7 734.8,916.7 735,914.3 735.2,914 735.4,915.2 735.7,916.1 735.9,916.7 736.2,917.2 736.4,917.6 736.8,916.9 736.9,917.3 737.2,917.8 737.4,918.1 737.7,918.4 737.9,918.5 738.3,918.4 738.4,918.1 738.7,918.4 739,918.7 739.3,918.2 739.5,917.5 739.7,918.1 740,918.6 740.2,918.8 740.5,919 740.7,919.1 741.1,918.5 741.2,918.7 741.5,918.9 741.7,919.1 742,919.2 742.2,919.3 742.6,918 742.9,915.7 743,913.1 743.2,913.3 743.5,914.7 743.7,915.7 744,916.5 744.2,917 744.5,917.5 744.9,917 745,917.3 745.3,917.8 745.6,918 745.8,917.8 746,918.2 746.4,918.3 746.5,918.1 746.8,918.5 747,918.8 747.3,919 747.5,919.1 747.8,919.2 748.2,918.8 748.3,918.9 748.5,919.1 748.8,919.2 749,919.3 749.4,912.9 749.5,913.6 749.9,914.5 750,914.2 750.3,915.5 750.7,916.3 750.8,916.2 751.1,917 751.4,917.1 751.6,916.5 751.8,917.4 752.2,917.9 752.3,917.8 752.7,915 752.8,911.2 753.1,912.2 753.3,913.8 753.6,914.9 753.8,915.8 754.2,915.3 754.3,915.9 754.7,916.4 754.8,916 755.1,917 755.5,917.4 755.6,917.1 755.8,917.8 756.2,918 756.3,917.6 756.7,918 757,917.7 757.1,917.5 757.4,918.1 757.6,918.5 757.9,918.8 758.1,919 758.5,918.4 758.6,918.7 759,918.8 759.1,918.6 759.4,919 759.6,919.2 760,919 760.1,919.1 760.5,918.7 760.6,918.1 760.9,918.8 761.1,919.2 761.4,919.4 761.6,919.6 762,918.8 762.3,917.5 762.4,917.8 762.6,918.3 762.9,918.7 763.3,918.6 763.5,913.8 763.7,909.4 763.9,911.3 764.2,912.7 764.4,913.9 764.7,914.5 764.9,915.1 765.2,916 765.5,916.1 765.7,915.6 765.9,916.6 766.2,917.3 766.6,917.7 766.7,917.5 766.9,918 767.2,918.4 767.6,917.3 767.7,917.8 767.9,918.4 768.2,918.8 768.4,919 768.8,918.7 769.1,917.9 769.2,918.1 769.6,918.2 769.7,918.5 770,918.8 770.2,919.1 770.5,919.3 770.7,919.4 771.1,918.4 771.2,918.7 771.5,919.1 771.7,919.4 772,919.6 772.2,919.7 772.6,918.5 772.7,918.8 773,919.3 773.2,919.6 773.5,919.8 773.7,919.9 774.1,918.5 774.2,918.9 774.6,916.6 774.7,913.9 775,915.1 775.4,914.9 775.5,915.6 775.8,916.7 776,917.4 776.3,918 776.6,918.3 776.8,918.1 777,918.6 777.3,918.9 777.5,919.2 777.8,919.4 778.2,919.3 778.3,919.1 778.5,919.4 778.8,919.6 779,919.8 779.4,919.5 779.5,919.7 779.8,919.8 780,920 780.4,919.5 780.5,918.9 780.8,919.4 781.1,919.8 781.4,919.4 781.6,918.8 781.8,919.4 782.1,919.8 782.4,915.6 782.6,911.3 782.9,912.8 783.1,912.6 783.3,913 783.6,914.1 783.8,915 784.1,916 784.3,916.8 784.7,916.9 784.8,916.5 785.1,917.4 785.3,918 785.7,917.2 785.8,917.7 786.1,918.4 786.3,918.8 786.6,919.2 787,919.1 787.1,918.9 787.4,919.3 787.6,919.5 787.9,919.7 788.2,918.3 788.5,916.2 788.6,916.7 788.9,917.5 789.1,918.1 789.4,918.5 789.6,918.9 790,918.9 790.1,918.6 790.4,919.1 790.6,919.4 790.9,919.6 791.1,919.8 791.5,919.3 791.6,918.7 791.9,919.3 792.1,919.7 792.5,919.6 792.6,919.2 792.9,919.7 793.2,920 793.5,919.8 793.7,919.4 794,919.1 794.2,918.4 794.4,919.1 794.8,918.5 794.9,918.9 795.2,919.5 795.4,919.9 795.8,919.1 795.9,919.4 796.2,919.9 796.4,920.1 796.7,920.3 797.1,920 797.2,919.6 797.4,920 797.7,920.3 798.1,919.4 798.2,919.7 798.4,920.1 798.7,920.3 799,920.5 799.3,920.2 799.6,919.3 799.7,919.5 800,919.7 800.3,919.3 800.5,918.6 800.7,919.3 801,919.8 801.3,919.9 801.5,920 801.9,914.5 802,908.9 802.2,910.9 802.5,912.5 802.9,913.6 803,913.4 803.2,914.8 803.5,915.9 803.9,911 804,911.8 804.2,912.9 804.5,914.2 804.7,915.3 805,916.1 805.4,915.8 805.5,916.4 805.9,917 806,916.7 806.3,917.6 806.5,918.3 806.9,918.3 807,917.8 807.3,918.5 807.5,919 807.8,919.4 808.2,919.4 808.3,919.6 808.5,919.8 808.8,920 809.2,919.5 809.3,918.9 809.5,919.5 809.8,919.9 810,920.2 810.3,920.3 810.7,919.8 810.9,918.9 811.1,918.7 811.3,919.2 811.6,919.6 811.8,919.9 812.2,919.6 812.3,919.8 812.6,920.1 812.8,920.3 813.2,919.8 813.3,919.2 813.6,919.8 813.8,920.2 814.1,920.5 814.3,920.6 814.7,920.4 814.8,920.1 815.1,920.4 815.3,920.6 815.7,920.1 816,919.6 816.1,918.8 816.3,919.3 816.6,919.5 816.9,919.7 817.1,920 817.4,920.2 817.7,920.1 817.9,919.8 818.1,920.2 818.4,920.5 818.7,920.3 818.9,920.4 819.1,920.6 819.4,920.8 819.7,920.5 819.9,920.1 820.3,916.3 820.4,912.2 820.6,913.7 820.9,914.9 821.3,915.4 821.4,916 821.6,916.9 821.9,917.7 822.1,918.2 822.5,918.2 822.6,918.5 822.9,919 823.3,918.9 823.4,918.4 823.7,919.1 824,917.6 824.2,917.9 824.5,918.2 824.7,917.9 824.9,918.7 825.2,919.2 825.4,919.6 825.8,919.2 825.9,919.5 826.2,919.9 826.4,920.2 826.7,920.4 826.9,920.5 827.3,920 827.4,919.3 827.7,919.9 827.9,920.3 828.2,920.6 828.6,920.5 828.7,920.3 829,920.6 829.2,920.8 829.6,919.8 829.7,920.1 830,920.5 830.2,920.8 830.6,919.4 830.7,917.9 831,918.6 831.2,919.1 831.6,918.8 831.7,919.2 832,919.7 832.2,920.1 832.5,920.3 832.7,920.5 833.1,920.5 833.2,920.2 833.5,920.5 833.7,920.8 834.1,920.3 834.2,919.7 834.6,902.8 834.7,903 835,904.6 835.3,907.3 835.5,908.9 835.8,910.4 836,912.3 836.3,913.7 836.5,914.6 836.8,915.5 837,916.4 837.3,917.1 837.5,917.6 837.8,918.1 838.2,918.2 838.3,917.9 838.5,918.6 838.9,917.8 839,918.3 839.3,919 839.5,919.5 839.8,919.8 840.2,919.6 840.3,919.1 840.5,919.7 840.9,919.9 841.1,919.6 841.3,920.1 841.6,920.4 841.8,920.6 842.2,920.3 842.3,919.9 842.6,920.4 842.9,920.1 843.1,919.5 843.4,917.8 843.6,918.2 843.8,918.9 844.2,918.3 844.3,918.8 844.6,919.5 845,919.4 845.1,918.9 845.3,919.7 845.6,920.2 845.8,920.6 846.1,920.8 846.5,920.7 846.6,920.8 846.9,921 847.2,920.3 847.4,920.6 847.6,920.9 847.9,921.1 848.1,921.3 848.5,920.8 848.6,920.2 848.9,920.7 849.1,921.1 849.4,921.3 849.6,921.4 850,919.4 850.1,918.4 850.4,919.1 850.8,919.2 850.9,918.8 851.1,919.6 851.4,920.1 851.8,920 851.9,920.3 852.3,920.4 852.4,920.1 852.6,920.6 852.9,920.9 853.2,921.2 853.4,921.3 853.8,921.1 853.9,920.9 854.2,921.2 854.4,921.4 854.7,921.5 854.9,921.6 855.3,921 855.5,916.5 855.7,912.7 855.9,914 856.2,915.2 856.4,916.4 856.8,917.2 856.9,917.1 857.2,918.1 857.6,918.4 857.7,917.9 858.1,912.7 858.2,913.6 858.4,915.1 858.8,916 859,915.8 859.2,917.1 859.5,918 859.7,918.7 860.1,918.8 860.2,918.4 860.5,919.2 860.7,919.7 861.1,919.2 861.2,919.6 861.5,920.1 861.7,920.5 862.1,919.6 862.2,920 862.5,920.5 862.7,920.9 863.1,919.8 863.2,920.2 863.5,920.7 863.9,919.8 864.1,917.3 864.2,914.5 864.5,916 864.7,917.1 865,917.5 865.3,918.4 865.5,919.1 865.8,919.6 866,920 866.4,919.2 866.5,919.6 866.8,920.2 867.1,920.1 867.3,920.3 867.5,920.7 867.8,921 868,921.2 868.4,921 868.7,917.4 868.8,917.9 869,918.8 869.3,919.4 869.5,919.9 869.8,920.3 870,920.6 870.3,920.8 870.5,921 870.8,921.2 871.1,921.3 871.3,921.4 871.6,921.5 871.9,921.4 872.1,920.8 872.3,921.3 872.7,921.2 872.8,921.4 873.1,921.7 873.3,921.8 873.7,912.3 873.8,913.5 874.1,915.1 874.3,916.8 874.6,918 874.8,918.9 875.2,918.9 875.3,919.4 875.6,920.1 875.8,920.1 876.1,920.7 876.3,921 876.6,921.1 876.9,921.4 877.1,921.5 877.4,921.6 877.6,921.7 878,920.8 878.1,921.1 878.5,921.5 878.6,921 878.9,921.6 879.1,921.9 879.4,922 879.7,921.9 879.9,921.5 880.1,921.9 880.4,922.1 880.8,921.9 880.9,921.3 881.1,921.8 881.4,922.1 881.6,922.2 882,922.1 882.1,921.7 882.4,922.1 882.6,922.3 883,921.7 883.2,921.9 883.4,922.2 883.7,922.3 883.9,922.4 884.3,922.3 884.4,922 884.7,922.3 884.9,922.4 885.3,922 885.5,915.4 885.7,904.7 885.9,908.8 886.2,911.9 886.4,914.2 886.7,915.8 886.9,917.2 887.2,918.2 887.4,919 887.7,919.6 887.9,920.1 888.2,920.1 888.4,920.6 888.7,921 889.1,921 889.2,921.2 889.6,921.5 889.7,921.3 890,921.6 890.2,921.8 890.5,922 890.8,922 891,921.9 891.2,922.1 891.6,922.1 891.7,921.9 892,922.2 892.2,922.3 892.5,922.4 892.7,922.4 893.1,922.4 893.2,922.2 893.5,922.4 893.9,922.1 894,922.3 894.2,922.4 894.5,922.5 894.7,922.6 895,922.6 895.4,922.1 895.5,922.3 895.9,919.3 896,919.8 896.3,920.5 896.5,920.7 896.8,921.2 897.1,921.6 897.3,921.4 897.5,921.8 897.9,922.1 898,921.9 898.3,922.2 898.5,922.3 898.9,922.1 899,921.4 899.3,922 899.5,922.3 899.9,921.9 900.2,918 900.3,918.7 900.5,919.7 900.8,920.4 901.1,920.9 901.4,921.2 901.6,921.4 901.8,921.7 902.2,921.9 902.3,921.6 902.6,922 902.9,922.1 903.1,921.9 903.3,922.2 903.6,922.4 904,922.5 904.1,922.4 904.3,922.5 904.6,922.6 904.8,922.7 905.2,922 905.3,920.8 905.6,921.1 905.8,921.5 906.1,921.9 906.3,922.1 906.7,922 906.9,922.1 907.1,922.3 907.4,922.5 907.7,922.5 907.9,922.3 908.1,922.5 908.4,922.6 908.6,922.7 909,922 909.1,922.3 909.4,922.5 909.7,922.4 909.9,921.8 910.1,922.4 910.4,922.6 910.8,922.7 910.9,922.6 911.1,922.8 911.5,919.1 911.6,919.1 911.9,920.2 912.1,920.9 912.5,921.2 912.6,920.7 912.9,921.5 913.2,921.9 913.4,922.2 913.8,922.1 913.9,921.6 914.2,922.1 914.4,922.4 914.8,921.9 914.9,922.1 915.2,922.5 915.5,922.5 915.7,922 916.1,920.9 916.2,918.1 916.4,919.3 916.7,920.1 916.9,919.8 917.2,920.8 917.4,921.4 917.8,921.4 917.9,921.7 918.2,922 918.6,922.2 918.7,922.1 919,922.4 919.3,922.5 919.5,922.3 919.7,922.5 920.1,922 920.2,922.2 920.5,922.5 920.7,922.7 921.1,918.4 921.2,918.9 921.5,919.7 921.7,920.5 922,921 922.2,921.5 922.5,921.8 922.9,921.7 923,921.9 923.2,922.2 923.5,922.4 923.7,922.5 924,922.6 924.4,922.3 924.5,922.4 924.7,922.6 925,922.7 925.4,922.4 925.5,922.6 925.8,922.8 926,922.8 926.4,922.4 926.5,922.6 926.8,922.8 927.1,920.4 927.3,920.6 927.5,921.2 927.8,921.7 928,921.7 928.3,922.1 928.5,922.3 928.8,922.5 929,922.6 929.3,922.6 929.5,922.7 929.8,922.8 930,922.8 930.4,922.8 930.5,922.7 930.8,922.9 931.2,922.6 931.3,922.7 931.6,922.9 931.8,923 932.1,923 932.4,920.7 932.6,917.5 932.8,918.9 933.1,919.9 933.3,920.6 933.6,921.1 933.8,921.4 934.1,921.8 934.3,922.1 934.6,922.3 934.8,922.4 935.2,922.5 935.3,922.3 935.6,922.5 935.8,922.7 936.1,922.8 936.3,922.9 936.7,922.8 936.9,922.6 937.1,922.8 937.4,922.9 937.7,919.8 937.9,914.7 938.1,916.7 938.4,917.8 938.6,919.1 938.9,920 939.1,920.6 939.4,921.1 939.6,921.5 939.9,921.8 940.1,922 940.4,922.2 940.6,922.3 940.9,922.3 941.1,922.5 941.4,922.6 941.6,922.7 942,922.8 942.1,922.7 942.4,922.8 942.8,922.8 942.9,922.6 943.2,922.9 943.5,922.9 943.7,922.7 943.9,922.9 944.3,922.9 944.4,923 944.8,923.1 945,918 945.2,918.7 945.4,919.7 945.7,920.5 945.9,921.1 946.2,921.3 946.4,921.8 946.7,922.1 946.9,922.4 947.3,922.2 947.4,922.4 947.7,922.7 947.9,922.8 948.2,922.9 948.4,923 948.8,922.5 949,922.7 949.2,922.9 949.5,923.1 949.8,922.7 950,922.9 950.2,923.1 950.5,923.2 950.7,923.3 951.1,918.5 951.2,919.2 951.5,920.2 951.7,920.9 952,921.5 952.2,921.9 952.5,922.1 952.7,922.4 953,922.6 953.2,922.7 953.6,922.3 953.7,922.5 954,922.8 954.2,923 954.6,922.5 954.7,922.7 955,923 955.3,923.2 955.5,923.2 955.8,923.3 956.1,923.2 956.3,923.3 956.5,923.3 956.8,923.4 957.1,923.3 957.3,923.1 957.5,923.3 957.8,923.4 958.2,920.5 958.3,916.2 958.5,918 958.8,919.3 959,919.3 959.3,920.5 959.5,921.3 959.8,921.8 960.2,922.1 960.3,921.9 960.5,922.4 960.8,922.6 961.1,922.8 961.4,922.6 961.6,922 961.8,922.6 962.1,923 962.3,923.1 962.6,923.2 962.9,923 963.1,923.1 963.3,923.3 963.6,923.4 963.8,923.4 964.2,923.1 964.3,922.4 964.6,923 965,915.4 965.1,916.5 965.3,918.1 965.6,919.3 965.8,920.1 966.1,920.9 966.3,921.4 966.7,921.8 966.9,921.5 967.1,922.1 967.4,922.5 967.6,922.7 968,922.3 968.1,922.6 968.4,922.9 968.6,923.1 968.9,923.2 969.2,923.1 969.4,922.7 969.6,923.1 970,922.7 970.1,923 970.4,923.3 970.6,923.4 970.9,923.5 971.1,923.6 971.5,922.9 971.8,912 971.9,913.5 972.1,915.9 972.4,917.7 972.6,919 972.9,919.6 973.2,920.5 973.5,920.6 973.7,921.1 973.9,921.8 974.2,922.2 974.4,922.5 974.8,921.9 974.9,922.2 975.2,922.7 975.5,922.9 975.7,923 975.9,923.2 976.3,922.5 976.4,922.8 976.7,923.2 976.9,923.4 977.2,923.5 977.6,922.8 977.7,923.1 977.9,923.4 978.3,922.4 978.4,922.8 978.7,923.3 979,923.5 979.2,923.7 979.5,923.7 979.8,923.4 980,923.5 980.2,923.7 980.5,923.8 980.8,923.4 981,923.5 981.2,923.7 981.5,923.8 981.7,923.9 982,923.9 982.4,922.7 982.5,921 982.7,921.8 983,922.3 983.2,922.6 983.6,922.8 983.7,923 984,923.2 984.2,923.4 984.5,923.5 984.9,923.5 985,923.4 985.3,923.6 985.6,923.6 985.8,923.5 986,923.7 986.3,923.8 986.5,923.8 986.9,923.7 987,923.8 987.4,918.5 987.5,919.2 987.8,920.3 988,921 988.3,921.7 988.5,922.2 988.8,922.5 989,922.8 989.3,923 989.5,923.1 989.8,923.3 990,923.4 990.3,923.5 990.5,923.6 990.9,923.6 991.1,923.7 991.3,923.8 991.6,923.8 991.9,923.5 992.1,923.6 992.3,923.8 992.6,923.9 992.8,923.9 993.2,923.9 993.3,923.7 993.6,923.9 993.8,924 994.2,920.6 994.3,921 994.6,921.7 994.8,922.2 995.1,922.6 995.3,922.8 995.6,923.1 995.8,923.3 996.1,923.5 996.5,923.6 996.6,923.5 996.9,923.7 997.1,923.8 997.4,923.9 997.6,923.9 998,923.9 998.1,923.9 998.4,924 998.7,923.6 998.9,923.8 999.1,923.9 999.4,924 999.6,924.1 1000,924 1000.1,924 1000.4,924.1 1000.8,924.1 1000.9,924 1001.1,924.1 1001.4,924.1 1001.8,924.2 1001.9,924.1 1002.1,924.2 1002.4,924.2 1002.6,924.2 1003,924.1 1003.2,924.2 1003.4,924.2 1003.8,924.2 1003.9,924.2 1004.2,924.2 1004.4,924.2 1004.8,921.2 1004.9,916.4 1005.2,918.2 1005.4,919.5 1005.7,920.6 1005.9,921.4 1006.2,921.9 1006.4,922.3 1006.7,922.7 1006.9,922.8 1007.2,923.1 1007.4,923.3 1007.7,923.5 1008.1,923.5 1008.2,923.6 1008.4,923.7 1008.7,923.8 1009,923.9 1009.3,923.9 1009.5,923.8 1009.7,923.9 1010,924 1010.2,924.1 1010.6,924 1010.7,923.8 1011,924 1011.3,923.7 1011.5,923.8 1011.7,924 1012,924.2 1012.2,924.2 1012.6,924.2 1012.9,920.7 1013,921.2 1013.2,922 1013.5,922.1 1013.7,922.7 1014.1,923.1 1014.2,922.8 1014.5,923.3 1014.7,923.6 1015,923.8 1015.4,923.9 1015.5,923.8 1015.8,924 1016,924.1 1016.3,924.1 1016.5,924.2 1016.9,924 1017,923.7 1017.3,924 1017.6,924 1017.8,923.8 1018,924 1018.4,924 1018.5,923.6 1018.8,924 1019,924.2 1019.3,924.3 1019.7,909.7 1019.8,911 1020,914.2 1020.3,916.6 1020.5,918.3 1020.8,919.5 1021.2,920.1 1021.3,920.7 1021.6,921.5 1021.8,922.1 1022.1,922.5 1022.4,922.8 1022.6,922.5 1022.8,923 1023.1,923.3 1023.4,923.2 1023.6,923.4 1023.8,923.6 1024.1,923.8 1024.3,923.9 1024.7,923.1 1024.8,923.4 1025.1,923.8 1025.3,924 1025.7,923.8 1025.8,923.3 1026.1,923.8 1026.3,924.1 1026.6,924.2 1026.8,924.2 1027.2,923.8 1027.4,924 1027.6,924.2 1028,923.8 1028.1,924 1028.5,917.2 1028.6,918.1 1028.9,919.5 1029.1,920.6 1029.4,921.4 1029.6,922.1 1029.9,922 1030.1,922.7 1030.4,923.1 1030.6,923.4 1030.9,923.6 1031.3,923.4 1031.4,923.6 1031.6,923.8 1031.9,923.9 1032.1,924 1032.4,924.1 1032.8,923.6 1032.9,923.8 1033.2,924.1 1033.4,924.2 1033.8,924.2 1033.9,924 1034.2,924.2 1034.5,923.6 1034.7,923.9 1034.9,924.2 1035.2,924.3 1035.4,924.4 1035.8,924.3 1035.9,924.1 1036.2,924.3 1036.6,913.3 1036.7,914.7 1036.9,916.9 1037.2,918.4 1037.4,919.5 1037.7,920.6 1038.1,921.1 1038.2,921.6 1038.4,922.3 1038.8,922.4 1039,922.7 1039.2,923.1 1039.6,922.9 1039.7,923.2 1040,923.6 1040.2,923.8 1040.5,923.7 1040.7,923.9 1041,924 1041.2,924.1 1041.5,924.2 1041.8,924.2 1042,924.1 1042.2,924.2 1042.5,924.3 1042.7,924.4 1043.1,924.4 1043.2,924.3 1043.5,924.4 1043.7,924.4 1044,924.5 1044.2,924.5 1044.6,924.5 1044.7,924.4 1045,924.5 1045.3,924.5 1045.5,924.5 1045.9,923 1046,920.9 1046.3,921.8 1046.5,922.5 1046.8,923 1047,923 1047.3,923.4 1047.5,923.7 1047.8,923.9 1048,924 1048.4,923.9 1048.5,924 1048.8,924.2 1049.2,924.2 1049.3,924.3 1049.5,924.4 1049.8,924.4 1050,924.5 1050.4,924.5 1050.5,924.5 1050.8,924.5 1051.2,922.5 1051.3,919.1 1051.6,920.4 1051.8,921.3 1052.1,922 1052.3,922.6 1052.6,923 1052.8,923.3 1053.1,923.5 1053.3,923.7 1053.6,923.9 1053.8,924 1054.1,924.1 1054.3,924.1 1054.6,924.2 1054.8,924.3 1055.1,924.3 1055.3,924.4 1055.6,924.4 1055.8,924.4 1056.1,924.5 1056.3,924.5 1056.6,924.5 1057,924.5 1057.1,924.3 1057.4,924.5 1057.6,924.5 1057.9,924.6 1058.1,924.6 1058.5,924.5 1058.6,924.3 1058.9,924.5 1059.1,924.6 1059.4,924.6 1059.7,924.6 1059.9,924.4 1060.1,924.6 1060.5,922.5 1060.6,922.6 1060.9,923.2 1061.1,923.6 1061.4,923.8 1061.8,924 1061.9,924.1 1062.3,924.1 1062.4,923.9 1062.6,924.2 1062.9,924.4 1063.2,924.5 1063.4,924.5 1063.8,924.3 1063.9,924.4 1064.3,924.3 1064.4,923.9 1064.7,924.3 1064.9,924.5 1065.2,924.6 1065.5,924.5 1065.7,924.6 1065.9,924.7 1066.2,924.7 1066.6,924.3 1066.8,922.6 1066.9,919.4 1067.2,920.7 1067.4,921.6 1067.7,922.3 1067.9,922.6 1068.2,923.1 1068.4,923.5 1068.7,923.7 1069,923.8 1069.2,924 1069.5,924.2 1069.7,924.3 1070.1,924.3 1070.2,924.2 1070.5,924.4 1070.7,924.5 1071,924.6 1071.3,924.4 1071.5,924.5 1071.7,924.6 1072,924.7 1072.2,924.7 1072.5,924.7 1072.9,924.4 1073,924.5 1073.2,924.7 1073.5,924.7 1073.9,924.3 1074,924.5 1074.2,924.7 1074.6,922.1 1074.7,922.4 1075,922.9 1075.3,923.4 1075.5,923.7 1075.8,923.9 1076,924.1 1076.3,924.3 1076.6,924.3 1076.8,924.1 1077,924.4 1077.3,924.5 1077.5,924.6 1077.8,924.7 1078.2,924.7 1078.3,924.7 1078.5,924.7 1078.8,924.8 1079,924.8 1079.4,924.8 1079.7,922.2 1079.8,917.9 1080,919.5 1080.3,920.8 1080.5,921.7 1080.8,922.3 1081.1,922.7 1081.3,923.2 1081.6,923.5 1081.9,923.8 1082.1,923.6 1082.3,924 1082.6,924.2 1082.8,924.3 1083.1,924.3 1083.3,924.5 1083.6,924.6 1083.8,924.6 1084.1,924.7 1084.5,924.2 1084.6,924.4 1084.8,924.6 1085.2,922.9 1085.3,919.8 1085.6,921.1 1085.8,922 1086.1,922.7 1086.5,922.8 1086.6,923.1 1086.8,923.6 1087.2,923.2 1087.4,923.6 1087.7,923.9 1087.9,923.6 1088.1,924.1 1088.4,924.4 1088.6,924.6 1088.9,924.7 1089.2,924.2 1089.4,924.4 1089.6,924.7 1089.9,924.8 1090.1,924.8 1090.5,924.8 1090.6,924.5 1090.9,924.8 1091.1,924.9 1091.4,924.9 1091.8,924.9 1092,923 1092.1,920.1 1092.4,921.3 1092.6,922.1 1092.9,922.8 1093.2,923.3 1093.4,923.5 1093.7,923.9 1093.9,924.1 1094.2,924.3 1094.4,924.4 1094.7,924.4 1094.9,924.6 1095.3,924.6 1095.4,924.7 1095.7,924.8 1095.9,924.8 1096.2,924.9 1096.6,924.8 1096.7,924.5 1096.9,924.8 1097.2,924.9 1097.4,925 1097.7,925 1098.1,924.8 1098.2,924.9 1098.4,925 1098.8,922.1 1099,922.5 1099.2,922.5 1099.5,923.3 1099.7,923.8 1100,924.1 1100.3,923.9 1100.5,924.2 1100.7,924.5 1101.1,924.5 1101.2,924.6 1101.5,924.8 1101.8,924.2 1102,924.5 1102.2,924.8 1102.5,924.9 1102.7,925 1103,925 1103.4,924.1 1103.5,924.4 1103.9,924.6 1104.1,920 1104.2,920.7 1104.5,921.9 1104.9,922.3 1105,922.8 1105.3,923.4 1105.5,923.9 1105.8,924.2 1106.1,924.2 1106.3,923.6 1106.5,924.2 1106.8,924.5 1107,924.7 1107.4,924.7 1107.5,924.5 1107.8,924.7 1108.2,924.7 1108.3,924.4 1108.5,924.8 1108.8,924.9 1109.2,924.8 1109.3,924.4 1109.5,924.8 1109.8,925 1110,925.1 1110.4,924.9 1110.7,923 1110.8,920.3 1111.1,921.5 1111.3,922.3 1111.6,922.8 1111.9,923.4 1112.1,923.1 1112.3,923.8 1112.6,924.2 1112.8,924.4 1113.2,924.4 1113.3,924.6 1113.6,924.7 1113.8,924.8 1114.1,924.9 1114.5,924.8 1114.6,924.9 1114.8,925 1115.1,925 1115.3,925.1 1115.7,918.1 1115.8,919.2 1116.1,920.8 1116.3,921.9 1116.6,922.6 1116.8,923.2 1117.1,923.1 1117.4,923.7 1117.6,924.1 1118,924.1 1118.1,923.7 1118.4,924.3 1118.6,924.5 1118.9,924.7 1119.2,924.2 1119.4,924.4 1119.6,924.7 1119.9,924.9 1120.3,925 1120.4,924.9 1120.6,925 1120.9,925.1 1121.1,925.1 1121.4,925.2 1121.8,925 1121.9,924.6 1122.1,925 1122.4,925.1 1122.6,925.2 1123,921.4 1123.2,917 1123.4,919.1 1123.7,920.6 1123.9,921.6 1124.3,922.2 1124.4,922.7 1124.7,923.3 1124.9,923.1 1125.2,923.7 1125.4,924 1125.7,924.2 1125.9,924.5 1126.2,924.6 1126.6,924.6 1126.7,924.3 1126.9,924.6 1127.2,924.8 1127.6,924.8 1127.7,924.9 1127.9,925 1128.3,924.5 1128.4,924.7 1128.7,925 1129.1,924.3 1129.2,923 1129.5,923.3 1129.7,923.8 1130,924.2 1130.2,924.2 1130.5,924.5 1130.7,924.7 1131,924.9 1131.2,925 1131.6,925 1131.7,924.9 1132,925.1 1132.2,925.1 1132.5,925.2 1132.9,925.1 1133,924.9 1133.2,925.1 1133.6,925.1 1133.7,925 1134,925.2 1134.2,925.2 1134.6,923.6 1134.7,920.8 1135,922 1135.3,922.8 1135.6,923.2 1135.8,923.6 1136,924 1136.3,924.3 1136.5,924.5 1136.9,924.4 1137,924.6 1137.4,924.8 1137.5,924.6 1137.8,924.9 1138,925 1138.3,925.1 1138.7,924.6 1138.8,924.8 1139,925 1139.3,925.2 1139.5,925.2 1139.8,925.3 1140.2,923.8 1140.3,922.1 1140.5,923 1140.8,923.6 1141.2,923.6 1141.3,923.9 1141.6,924.3 1141.8,924.6 1142.1,924.8 1142.3,924.9 1142.7,924.7 1142.8,924.9 1143.1,925 1143.3,925.1 1143.7,925 1143.8,924.5 1144.1,924.9 1144.3,925.1 1144.6,925.2 1144.8,925.3 1145.2,924.5 1145.3,924.8 1145.7,923.6 1145.8,921 1146.2,921.7 1146.3,922.3 1146.6,923.2 1146.8,923.7 1147.1,924.1 1147.4,924.4 1147.7,923.8 1147.9,924.2 1148.1,924.6 1148.4,924.8 1148.7,924.8 1148.9,924.9 1149.1,925.1 1149.4,925.1 1149.6,925.2 1150,924.4 1150.1,924.7 1150.4,925 1150.6,925.2 1151,924.7 1151.1,924.9 1151.4,925.2 1151.8,924.5 1152,922.8 1152.1,923.3 1152.4,923.9 1152.6,924.3 1153,924.5 1153.2,924.3 1153.4,924.7 1153.7,924.9 1154,924.8 1154.2,924.9 1154.4,925.1 1154.7,925.2 1155,925.2 1155.2,925.1 1155.4,925.3 1155.7,925.3 1156.1,925.1 1156.2,925.2 1156.6,920.6 1156.7,921.2 1156.9,921.8 1157.2,922.8 1157.4,923.4 1157.7,923.9 1158.1,924 1158.2,924.2 1158.4,924.5 1158.7,924.7 1159,924.9 1159.2,925 1159.6,924.7 1159.7,924.8 1160,925 1160.2,925.2 1160.5,925.2 1160.7,925.3 1161.1,924.9 1161.2,925.1 1161.5,925.2 1161.8,925.2 1162.1,920 1162.2,920.7 1162.5,921.9 1162.7,922.7 1163,923.2 1163.2,923.7 1163.5,924.1 1163.7,924.4 1164,924.6 1164.4,924.7 1164.5,924.8 1164.7,924.9 1165,925 1165.3,925 1165.5,925.1 1165.8,925.2 1166,925.3 1166.3,925.3 1166.6,925.3 1166.8,925.2 1167,925.3 1167.4,925.3 1167.5,925.1 1167.8,925.3 1168.2,925.3 1168.3,925.4 1168.5,925.4 1168.8,925.5 1169.2,919.5 1169.3,920.2 1169.5,921.5 1169.8,922.4 1170,923.1 1170.3,923.3 1170.5,923.9 1170.8,924.2 1171.2,924.1 1171.3,924.4 1171.6,924.7 1171.8,924.9 1172.1,925 1172.4,925 1172.6,924.9 1172.8,925.1 1173.1,925.2 1173.3,925.3 1173.6,925.4 1174,925.1 1174.1,925.2 1174.3,925.4 1174.6,925.4 1174.8,925.5 1175.2,925.4 1175.3,925.3 1175.6,925.4 1176,921.5 1176.1,922.1 1176.3,922.9 1176.6,923.3 1176.8,923.9 1177.1,924.3 1177.4,924.5 1177.7,924.7 1177.9,924.8 1178.1,925 1178.4,925.1 1178.7,925.1 1178.9,924.9 1179.1,925.2 1179.4,925.3 1179.6,925.4 1180,925.4 1180.1,925.4 1180.4,925.5 1180.8,925.4 1180.9,925.3 1181.1,925.4 1181.4,925.5 1181.6,925.6 1182,925.6 1182.1,925.5 1182.5,923.4 1182.6,919.8 1182.9,920.9 1183.2,922.1 1183.4,922.8 1183.7,923.4 1183.9,923.9 1184.2,924.3 1184.4,924.3 1184.7,924.6 1184.9,924.8 1185.2,925 1185.5,925 1185.7,924.7 1185.9,925 1186.2,925.2 1186.4,925.3 1186.7,925.4 1187.1,925.3 1187.2,925 1187.4,925.3 1187.7,925.4 1188.1,924.9 1188.2,925.1 1188.4,925.4 1188.7,925.5 1189,925.6 1189.2,925.6 1189.6,925.4 1189.7,925.5 1190.1,923.7 1190.2,924 1190.5,924.4 1190.8,924 1191,924.4 1191.2,924.8 1191.6,925.1 1191.7,925 1192,925.2 1192.2,925.4 1192.6,925.3 1192.7,925.4 1193.1,924 1193.2,924.2 1193.6,924.4 1193.7,924.6 1194.1,924.9 1194.2,924.6 1194.5,925 1194.7,925.3 1195.1,925.4 1195.3,925.3 1195.5,925.4 1195.8,925.5 1196,925.6 1196.4,925.6 1196.5,925.4 1196.8,925.6 1197.1,924.9 1197.3,925.1 1197.5,925.5 1197.9,925.5 1198,925.1 1198.3,925.5 1198.5,925.6 1198.8,925.7 1199.2,923.8 1199.3,920.4 1199.5,921.3 1199.8,922.5 1200,923.3 1200.3,923.9 1200.5,924.3 1200.9,923.9 1201.1,924.3 1201.3,924.8 1201.6,925 1201.8,925.2 1202.2,925.1 1202.3,924.6 1202.6,925.1 1202.8,925.4 1203.1,925.5 1203.3,925.6 1203.7,925.2 1203.8,925.4 1204.1,925.6 1204.5,925.2 1204.6,925.4 1204.8,925.6 1205.2,925.6 1205.3,925.3 1205.7,919.2 1205.8,919.9 1206.1,921.1 1206.3,922.3 1206.7,922.9 1206.8,923.3 1207.1,924 1207.4,924.4 1207.7,924.6 1207.9,924.8 1208.1,925 1208.5,925 1208.6,925.1 1208.9,925.3 1209.1,925.4 1209.4,925.5 1209.6,925.6 1210,924.8 1210.1,925.1 1210.4,925.4 1210.6,925.6 1210.9,925.6 1211.1,925.7 1211.5,925.5 1211.6,925.6 1211.9,925.7 1212.3,925.4 1212.5,920.1 1212.6,920.9 1212.9,922.1 1213.2,923 1213.4,923.6 1213.7,923.6 1213.9,924.2 1214.3,924.5 1214.4,924.7 1214.8,924.9 1214.9,924.5 1215.2,925 1215.4,925.3 1215.8,925.2 1215.9,925.4 1216.2,925.5 1216.4,925.6 1216.8,925.3 1216.9,925.4 1217.2,925.6 1217.4,925.7 1217.8,925.7 1217.9,925.4 1218.2,925.7 1218.4,925.8 1218.8,925.8 1219,925.6 1219.2,925.8 1219.5,925.9 1219.8,924.1 1220,924.3 1220.3,924 1220.5,924.4 1220.7,925 1221.1,924.7 1221.2,925 1221.5,925.4 1221.7,925.6 1222,925.7 1222.2,925.8 1222.6,925.7 1222.7,925.8 1223.1,925.7 1223.2,925.4 1223.5,925.7 1223.7,925.8 1224,925.9 1224.4,924.3 1224.5,924.1 1224.7,924.7 1225,925.1 1225.3,925.3 1225.5,925.5 1225.9,925.5 1226,925.3 1226.3,925.6 1226.6,925.7 1226.8,925.5 1227,925.7 1227.4,925.8 1227.5,925.8 1227.9,923.2 1228,923.6 1228.3,924.2 1228.5,924.6 1228.8,924.9 1229,925.2 1229.4,925.3 1229.5,925.1 1229.8,925.4 1230,925.6 1230.3,925.7 1230.5,925.8 1230.9,925.4 1231.1,925.6 1231.3,925.8 1231.6,925.9 1231.9,925.6 1232.1,925.7 1232.3,925.9 1232.6,926 1232.9,925.9 1233.1,925.6 1233.3,925.9 1233.7,923.2 1233.8,923.6 1234.1,923.6 1234.3,924.4 1234.6,924.8 1234.8,925.1 1235.2,925.1 1235.3,925.3 1235.6,925.5 1235.8,925.7 1236.1,925.8 1236.5,925.8 1236.6,925.6 1236.8,925.8 1237.1,925.9 1237.5,925.9 1237.6,926 1237.9,926 1238.1,926.1 1238.5,925.8 1238.6,925.9 1238.9,926 1239.1,926.1 1239.5,924 1239.6,924.2 1239.9,924.6 1240.1,925 1240.4,925.3 1240.6,925.5 1241,925.3 1241.1,925.5 1241.4,925.7 1241.6,925.8 1241.9,925.9 1242.3,925.9 1242.4,925.8 1242.6,926 1242.9,926 1243.2,926.1 1243.5,926 1243.8,923.6 1243.9,919.7 1244.2,921.1 1244.4,922.3 1244.7,923.2 1244.9,923.7 1245.2,924.1 1245.4,924.6 1245.8,924.9 1245.9,924.7 1246.2,925.1 1246.6,925.1 1246.7,925.3 1246.9,925.5 1247.3,925.7 1247.4,925.5 1247.7,925.7 1247.9,925.9 1248.3,925.9 1248.4,925.8 1248.7,926 1249,926 1249.2,926.1 1249.5,926.1 1249.8,926.1 1250,926.1 1250.3,926.2 1250.5,926.1 1250.7,926.2 1251.1,924.5 1251.2,921.7 1251.5,922.8 1251.7,923.6 1252,924.1 1252.2,924.6 1252.5,924.5 1252.7,925 1253,925.3 1253.2,925.5 1253.5,925.7 1253.9,925.6 1254,925.7 1254.2,925.9 1254.6,925 1254.7,925.4 1255,925.8 1255.4,925.9 1255.5,925.6 1255.8,925.9 1256,926.1 1256.3,926.2 1256.6,926.1 1256.8,925.9 1257,926.1 1257.3,926.2 1257.5,926.3 1257.9,926 1258,925.5 1258.3,925.9 1258.5,926.2 1258.8,926.3 1259.2,923 1259.3,923.5 1259.5,924.3 1259.8,924.7 1260,925.1 1260.3,925.4 1260.5,925.6 1260.9,925.4 1261.1,925.6 1261.3,925.8 1261.6,926 1261.8,926.1 1262.1,926 1262.3,926.1 1262.7,926.1 1262.8,925.9 1263.1,926.1 1263.3,926.2 1263.7,925.9 1263.8,926 1264.1,926.2 1264.3,926.3 1264.6,926.3 1265,925.5 1265.2,923.8 1265.3,924.3 1265.6,924.9 1265.8,925.2 1266.1,925.1 1266.3,925.5 1266.6,925.8 1266.8,925.9 1267.2,926 1267.4,925.7 1267.6,926 1267.9,926.1 1268.1,926.2 1268.4,926.3 1268.7,925.7 1269,913.7 1269.1,915.3 1269.4,917.9 1269.6,919.8 1269.9,921.2 1270.1,922.1 1270.4,922.7 1270.6,923.5 1270.9,924.1 1271.1,924.5 1271.5,924.7 1271.6,924.9 1271.9,925.2 1272.1,925.4 1272.5,925.3 1272.6,925.4 1272.9,925.7 1273.2,925.8 1273.4,925.9 1273.8,925.8 1273.9,925.9 1274.3,925.9 1274.4,925.5 1274.7,925.9 1275,925.6 1275.2,925.8 1275.4,926.1 1275.8,925.6 1275.9,925.9 1276.2,926.1 1276.6,926 1276.7,926.1 1276.9,926.3 1277.2,926.4 1277.4,926.4 1277.8,926.1 1277.9,925.5 1278.2,926 1278.4,926.3 1278.8,912.4 1278.9,913.7 1279.2,916.8 1279.5,919 1279.7,920.6 1280,921.4 1280.2,922.6 1280.5,923.4 1280.7,923.9 1281,924.2 1281.2,924.7 1281.5,925 1281.7,925.2 1282.1,925.4 1282.2,925.2 1282.5,925.5 1282.9,925.7 1283,925.6 1283.2,925.8 1283.5,926 1283.7,926.1 1284.1,926 1284.2,925.7 1284.5,926 1284.9,925.9 1285,926.1 1285.3,926.2 1285.6,926.1 1285.8,925.7 1286,926.1 1286.3,926.3 1286.5,926.4 1286.9,926.4 1287,926.2 1287.3,926.4 1287.6,926.2 1287.8,926.3 1288,926.4 1288.3,926.5 1288.7,926.5 1288.8,926.4 1289,926.5 1289.3,926.5 1289.7,926.5 1289.8,926.3 1290,926.4 1290.4,926.4 1290.5,926.4 1290.8,926.5 1291.1,926.6 1291.3,926.6 1291.7,926.6 1291.9,925.7 1292.1,924.3 1292.3,924.9 1292.6,925.3 1292.8,925.6 1293.2,925.4 1293.3,925.6 1293.6,925.9 1293.8,926.1 1294.2,925.5 1294.3,925.7 1294.6,926.1 1294.8,926.3 1295.1,926.4 1295.5,926.4 1295.6,926.3 1295.8,926.4 1296.1,926.5 1296.5,924.8 1296.6,922 1296.8,923.2 1297.1,924.1 1297.4,924.7 1297.7,924.3 1297.9,924.8 1298.1,925.3 1298.4,925.7 1298.6,925.9 1299,925.9 1299.1,925.7 1299.4,926 1299.7,925.2 1299.9,925.6 1300.1,926 1300.4,926.2 1300.8,925.7 1300.9,926 1301.1,926.2 1301.4,926.4 1301.8,925.3 1301.9,925.7 1302.1,926.1 1302.4,926.4 1302.6,926.5 1302.9,926.5 1303.3,926.4 1303.4,926.4 1303.7,926.5 1304,923 1304.2,923.1 1304.4,924.1 1304.7,924.7 1304.9,925 1305.2,925.4 1305.5,925 1305.7,925.4 1305.9,925.8 1306.3,925.3 1306.4,925.6 1306.7,926 1306.9,926.2 1307.2,926.3 1307.4,926.4 1307.8,925.7 1307.9,925.9 1308.2,926.3 1308.4,926.4 1308.7,926.5 1309.1,925.1 1309.2,922.7 1309.5,923.8 1309.7,924.6 1310.1,924.5 1310.2,924.9 1310.5,925.4 1310.7,925.8 1311,926 1311.3,925.9 1311.5,925.5 1311.7,925.9 1312,926.2 1312.2,926.3 1312.6,925.9 1312.7,926.1 1313,926.3 1313.2,926.4 1313.6,926.1 1313.7,926.2 1314,926.4 1314.4,926.2 1314.5,926.3 1314.7,926.5 1315.1,922.7 1315.3,923.3 1315.5,924.2 1315.9,924.6 1316,924.9 1316.3,925.4 1316.5,925.7 1316.8,925.9 1317,925.8 1317.3,926.1 1317.6,926.2 1317.8,926 1318,926.3 1318.3,926.4 1318.7,926.4 1318.8,926.4 1319,926.5 1319.3,926.5 1319.7,926.4 1319.8,926.5 1320,926.6 1320.4,925.8 1320.5,924.3 1320.8,924.8 1321.1,925.2 1321.3,925.5 1321.6,925.8 1321.8,926 1322.1,926 1322.3,926.2 1322.7,926.3 1322.8,926.1 1323.1,926.3 1323.4,926.2 1323.6,926.3 1323.8,926.4 1324.1,926.5 1324.5,926.6 1324.7,924 1324.8,920 1325.1,921.6 1325.3,922.7 1325.6,923.6 1325.8,924.3 1326.2,924.7 1326.3,924.5 1326.6,925.1 1326.8,925.5 1327.1,925.8 1327.4,925.9 1327.7,926 1327.9,926.1 1328.1,926.2 1328.4,926.3 1328.7,926.3 1328.9,926.1 1329.1,926.3 1329.4,926.4 1329.7,925.9 1329.9,926.1 1330.1,926.4 1330.4,926.5 1330.8,926.4 1330.9,926.5 1331.1,926.6 1331.4,926.6 1331.8,923.8 1331.9,919 1332.1,920.7 1332.4,922 1332.6,923.1 1333,923.6 1333.2,924.1 1333.4,924.7 1333.7,925.2 1334,924.9 1334.2,925.2 1334.4,925.7 1334.7,925.9 1335,925.9 1335.2,926.1 1335.4,926.2 1335.7,926.3 1336.1,926.1 1336.2,926.2 1336.4,926.4 1336.7,926.5 1337.1,926.4 1337.2,926.1 1337.4,926.4 1337.7,926.5 1338.1,922.6 1338.2,923.1 1338.4,924 1338.7,924.5 1338.9,925 1339.2,925.4 1339.5,925.7 1339.7,925.7 1340,926 1340.2,926.1 1340.5,926.3 1340.7,926.4 1341.1,926.2 1341.2,926.3 1341.5,926.5 1341.8,926.4 1342,926.2 1342.2,926.4 1342.6,926.5 1342.7,926.5 1343,926.6 1343.2,926.7 1343.6,926.2 1343.9,923.1 1344,923.6 1344.2,924.4 1344.6,924.7 1344.7,925 1345,925.5 1345.3,925.8 1345.6,925.9 1345.8,926 1346,926.2 1346.4,926 1346.5,926.2 1346.8,926.4 1347,926.5 1347.3,926.6 1347.5,926.6 1347.9,926.3 1348,926.5 1348.4,926.6 1348.5,926.4 1348.8,926.6 1349,926.7 1349.4,925.4 1349.7,925.3 1349.8,925.6 1350,926 1350.3,926.2 1350.7,925.8 1350.8,926.1 1351.1,926.4 1351.3,926.5 1351.6,926.6 1351.9,926.6 1352.1,926.6 1352.4,926.1 1352.6,924.9 1352.8,925 1353.1,925.6 1353.3,925.9 1353.6,926.1 1353.8,926.3 1354.2,926.2 1354.3,926.3 1354.6,926.5 1354.8,926.6 1355.1,926.7 1355.5,926.6 1355.6,926.3 1355.8,926.6 1356.1,926.7 1356.5,926.7 1356.6,926.4 1356.8,926.7 1357.1,926.8 1357.4,926.8 1357.6,926.9 1358,926.2 1358.1,926.4 1358.4,926.7 1358.6,926.8 1359,921.7 1359.1,922.2 1359.4,923.4 1359.6,924.2 1359.9,924.8 1360.1,925.3 1360.5,925.6 1360.6,925.3 1360.9,925.8 1361.1,926.1 1361.4,926.3 1361.6,926.2 1361.9,926.4 1362.1,926.5 1362.5,926.3 1362.6,926.5 1362.9,926.6 1363.3,926.6 1363.4,926.2 1363.7,926.6 1363.9,926.7 1364.2,926.8 1364.5,926.7 1364.7,926.8 1364.9,926.9 1365.2,926.9 1365.5,926.6 1365.7,926.7 1366.1,920.3 1366.2,921.1 1366.4,922.5 1366.7,923.5 1366.9,924.2 1367.2,924.8 1367.4,925.2 1367.7,925.1 1367.9,925.6 1368.2,925.9 1368.4,926.1 1368.7,926.3 1369.1,926.4 1369.2,926.4 1369.5,926.5 1369.8,926.6 1370,926.5 1370.2,926.7 1370.5,926.7 1370.7,926.8 1371,926.8 1371.3,926.8 1371.5,926.8 1371.7,926.9 1372,926.9 1372.2,926.9 1372.5,927 1372.9,926.5 1373,926.7 1373.2,926.9 1373.5,927 1373.9,924.2 1374,919.8 1374.2,921.5 1374.5,922.8 1374.7,923.5 1375,924.3" fill="none" stroke="#0a72bd" stroke-width="6" stroke-linejoin="round" stroke-linecap="round"/></g>
<rect x="1131" y="40" width="223.2" height="55.4" fill="#fff" stroke="#4a4a4a" stroke-width="1.6"/>
<line x1="1139.5" y1="67.8" x2="1220.8" y2="67.8" stroke="#0a72bd" stroke-width="5.5"/>
<text x="1227.6" y="80.3" font-size="37.8" fill="#111">WMSE</text>
<rect x="867.7" y="881.9" width="507.3" height="83.3" fill="none" stroke="#000" stroke-width="2.6" stroke-dasharray="7.2 3.6"/>
<path d="M529 808.1L867.7 881.9M1332.6 808.1L1375 881.9" stroke="#000" stroke-width="2.4" fill="none"/>
<rect x="529" y="208.5" width="803.6" height="599.6" fill="#fff" stroke="#000" stroke-width="3.2"/>
<path d="M702.99 218.4V739.6M788.28 218.4V739.6M873.56 218.4V739.6M958.85 218.4V739.6M1044.14 218.4V739.6M1129.42 218.4V739.6M1214.71 218.4V739.6" stroke="#000" stroke-opacity=".07" stroke-width="1.8" fill="none"/>
<path d="M617.7 720.61H1300.0M617.7 701.74H1300.0M617.7 682.99H1300.0M617.7 664.37H1300.0M617.7 645.86H1300.0M617.7 627.48H1300.0M617.7 609.21H1300.0M617.7 591.06H1300.0M617.7 573.03H1300.0M617.7 555.10H1300.0M617.7 537.29H1300.0M617.7 519.59H1300.0M617.7 502.00H1300.0M617.7 484.52H1300.0M617.7 467.14H1300.0M617.7 449.87H1300.0M617.7 432.70H1300.0M617.7 415.63H1300.0M617.7 398.66H1300.0M617.7 381.80H1300.0M617.7 365.03H1300.0M617.7 348.36H1300.0M617.7 331.79H1300.0M617.7 315.31H1300.0M617.7 298.93H1300.0M617.7 282.64H1300.0M617.7 266.45H1300.0M617.7 250.34H1300.0M617.7 234.33H1300.0" stroke="#000" stroke-opacity=".07" stroke-width="1.8" fill="none"/>
<path d="M702.99 739.6v-7.5M702.99 218.4v7.5M788.28 739.6v-7.5M788.28 218.4v7.5M873.56 739.6v-7.5M873.56 218.4v7.5M958.85 739.6v-7.5M958.85 218.4v7.5M1044.14 739.6v-7.5M1044.14 218.4v7.5M1129.42 739.6v-7.5M1129.42 218.4v7.5M1214.71 739.6v-7.5M1214.71 218.4v7.5M617.7 720.61h4.2M1300.0 720.61h-4.2M617.7 701.74h4.2M1300.0 701.74h-4.2M617.7 682.99h4.2M1300.0 682.99h-4.2M617.7 664.37h4.2M1300.0 664.37h-4.2M617.7 645.86h7.5M1300.0 645.86h-7.5M617.7 627.48h4.2M1300.0 627.48h-4.2M617.7 609.21h4.2M1300.0 609.21h-4.2M617.7 591.06h4.2M1300.0 591.06h-4.2M617.7 573.03h4.2M1300.0 573.03h-4.2M617.7 555.10h7.5M1300.0 555.10h-7.5M617.7 537.29h4.2M1300.0 537.29h-4.2M617.7 519.59h4.2M1300.0 519.59h-4.2M617.7 502.00h4.2M1300.0 502.00h-4.2M617.7 484.52h4.2M1300.0 484.52h-4.2M617.7 467.14h7.5M1300.0 467.14h-7.5M617.7 449.87h4.2M1300.0 449.87h-4.2M617.7 432.70h4.2M1300.0 432.70h-4.2M617.7 415.63h4.2M1300.0 415.63h-4.2M617.7 398.66h4.2M1300.0 398.66h-4.2M617.7 381.80h7.5M1300.0 381.80h-7.5M617.7 365.03h4.2M1300.0 365.03h-4.2M617.7 348.36h4.2M1300.0 348.36h-4.2M617.7 331.79h4.2M1300.0 331.79h-4.2M617.7 315.31h4.2M1300.0 315.31h-4.2M617.7 298.93h7.5M1300.0 298.93h-7.5M617.7 282.64h4.2M1300.0 282.64h-4.2M617.7 266.45h4.2M1300.0 266.45h-4.2M617.7 250.34h4.2M1300.0 250.34h-4.2M617.7 234.33h4.2M1300.0 234.33h-4.2" stroke="#6e6e6e" stroke-width="1.3" fill="none"/>
<rect x="617.7" y="218.4" width="682.3" height="521.2" fill="none" stroke="#6e6e6e" stroke-width="1.7"/>
<g clip-path="url(#ci)"><polyline points="617.7,526.3 617.9,527.8 618,529.1 618.2,530.3 618.4,531.4 618.6,532.5 618.7,533.4 618.9,534.3 619.1,535.1 619.2,530.4 619.4,520 619.6,526 619.7,530.2 619.9,533.3 620.1,532 620.3,526.7 620.4,531.3 620.6,534.6 620.8,536.9 620.9,538.7 621.1,539.9 621.3,540.9 621.5,466.6 621.6,346.2 621.8,371.1 622,389.8 622.1,402.7 622.3,421.4 622.5,437.1 622.6,450.4 622.8,461.7 623,471.3 623.2,479.7 623.3,486.9 623.5,487.3 623.7,481.3 623.8,491.5 624,499.5 624.2,505.7 624.4,507.3 624.5,504.4 624.7,511.1 624.9,516.3 625,520.3 625.2,522.2 625.4,522.3 625.5,525.7 625.7,528.4 625.9,530.5 626.1,532.3 626.2,533.8 626.4,535.1 626.6,536.2 626.7,537.2 626.9,538.1 627.1,539 627.3,532.2 627.4,518.1 627.6,525.8 627.8,531.3 627.9,535.2 628.1,532.6 628.3,524 628.4,530.6 628.6,535.3 628.8,538.5 629,540.9 629.1,542.6 629.3,543.9 629.5,544.8 629.6,545.6 629.8,541.9 630,533.7 630.2,538.3 630.3,541.5 630.5,543.7 630.7,545.4 630.8,546.5 631,547.4 631.2,541.6 631.3,529.4 631.5,535.9 631.7,540.4 631.9,543.6 632,545.7 632.2,547.3 632.4,548.4 632.5,549.2 632.7,549.8 632.9,545.8 633.1,537.1 633.2,541.7 633.4,544.9 633.6,547.1 633.7,548.6 633.9,549.7 634.1,546 634.2,537.4 634.4,542.2 634.6,545.5 634.8,547.8 634.9,549.4 635.1,550.5 635.3,551.3 635.4,551.9 635.6,552.3 635.8,552.6 636,549.8 636.1,544 636.3,547 636.5,549.2 636.6,550.6 636.8,551.7 637,552.4 637.1,549.3 637.3,542.6 637.5,546.3 637.7,409.1 637.8,191.9 638,236.5 638.2,275 638.3,308.4 638.5,337.3 638.7,362.4 638.9,384.1 639,402.2 639.2,416.9 639.4,432 639.5,445 639.7,456.3 639.9,466.2 640,474.7 640.2,482.3 640.4,488.9 640.6,494.7 640.7,499.9 640.9,504.5 641.1,506.3 641.2,505.2 641.4,510.8 641.6,515.3 641.8,519.1 641.9,522.2 642.1,525 642.3,525.3 642.4,523.3 642.6,527.1 642.8,530.1 642.9,532.6 643.1,532.4 643.3,529.6 643.5,533.2 643.6,536 643.8,538.2 644,539.9 644.1,541.3 644.3,542.5 644.5,543.6 644.7,544.5 644.8,543.9 645,541.8 645.2,543.8 645.3,545.4 645.5,546.6 645.7,547.6 645.8,545.9 646,541.7 646.2,544.7 646.4,546.8 646.5,548.4 646.7,549.5 646.9,550.4 647,551.2 647.2,551.8 647.4,552.2 647.6,552.7 647.7,553 647.9,551.3 648.1,547.4 648.2,549.7 648.4,551.3 648.6,552.5 648.7,550.5 648.9,545.5 649.1,548.7 649.3,550.9 649.4,552.5 649.6,553.6 649.8,554.5 649.9,555.1 650.1,555.5 650.3,555.9 650.5,556.2 650.6,556.4 650.8,553 651,546 651.1,549.6 651.3,552.1 651.5,528.7 651.6,488.4 651.8,497.7 652,505.5 652.2,512.2 652.3,516.1 652.5,517.2 652.7,523.2 652.8,528 653,531.9 653.2,535.2 653.4,535.1 653.5,531.9 653.7,536.5 653.9,540 654,542.8 654.2,544.9 654.4,544.6 654.5,542 654.7,545.1 654.9,547.4 655.1,549.1 655.2,550.4 655.4,551.5 655.6,552.3 655.7,545.6 655.9,531.5 656.1,539.1 656.2,544.3 656.4,548 656.6,550.5 656.8,552.4 656.9,549.4 657.1,541.8 657.3,513.6 657.4,462.7 657.6,476 657.8,487.1 658,496.5 658.1,504.3 658.3,511 658.5,516.7 658.6,521.6 658.8,525.8 659,527.7 659.1,527.2 659.3,531.7 659.5,535.3 659.7,538.2 659.8,540.6 660,542.6 660.2,540.7 660.3,534.9 660.5,539.7 660.7,543.2 660.9,545.8 661,547.8 661.2,546.5 661.4,542.1 661.5,545.8 661.7,548.4 661.9,550.4 662,551.8 662.2,552.9 662.4,553.8 662.6,553.6 662.7,552.3 662.9,553.7 663.1,554.7 663.2,555.5 663.4,556.1 663.6,556.6 663.8,557 663.9,557.3 664.1,557.6 664.3,543.4 664.4,519.8 664.6,523.4 664.8,524.8 664.9,530 665.1,534.2 665.3,537.7 665.5,540.6 665.6,543 665.8,545.1 666,546.8 666.1,546 666.3,542.7 666.5,546.1 666.7,548.6 666.8,550.5 667,552 667.2,553.1 667.3,554.1 667.5,554.8 667.7,553.3 667.8,549.5 668,552.1 668.2,553.9 668.4,555.3 668.5,556.3 668.7,557 668.9,557.6 669,558.1 669.2,553.4 669.4,543.6 669.6,548.7 669.7,552.2 669.9,554.7 670.1,556.4 670.2,557.6 670.4,552.2 670.6,540.4 670.7,546.8 670.9,551.2 671.1,554.3 671.3,556.4 671.4,557.9 671.6,558.9 671.8,558.2 671.9,555.8 672.1,557.6 672.3,558.8 672.5,559.7 672.6,533 672.8,484.3 673,485.3 673.1,497.4 673.3,507.1 673.5,514.9 673.6,521.3 673.8,526.6 674,531 674.2,527.8 674.3,517.1 674.5,526.4 674.7,533.3 674.8,538.3 675,542.2 675.2,545.1 675.4,547.4 675.5,549.3 675.7,550.8 675.9,546 676,535 676.2,541.6 676.4,546.3 676.5,549.7 676.7,552.1 676.9,553.9 677.1,550 677.2,540.6 677.4,546.4 677.6,550.4 677.7,553.2 677.9,555.2 678.1,556.7 678.3,552.8 678.4,543.8 678.6,549.1 678.8,552.8 678.9,520.4 679.1,464.8 679.3,477.7 679.4,488.6 679.6,497.9 679.8,505.8 680,506.1 680.1,498.8 680.3,510.1 680.5,518.7 680.6,525.3 680.8,530.6 681,534.8 681.2,535.2 681.3,531.9 681.5,537.2 681.7,541.2 681.8,544.3 682,546.7 682.2,548.6 682.3,548.3 682.5,545.9 682.7,548.8 682.9,551 683,552.6 683.2,553.9 683.4,553.1 683.5,550.4 683.7,552.8 683.9,554.6 684.1,555.9 684.2,552 684.4,543 684.6,548.3 684.7,552 684.9,554.6 685.1,556.5 685.2,557.8 685.4,558.8 685.6,525.1 685.8,469.1 685.9,481.1 686.1,490.2 686.3,496.9 686.4,505.5 686.6,512.7 686.8,518.8 687,524 687.1,528.5 687.3,532.4 687.5,535.7 687.6,538.6 687.8,541.1 688,540.5 688.1,536.9 688.3,541.3 688.5,544.6 688.7,547.2 688.8,549.3 689,550.9 689.2,552.3 689.3,553.4 689.5,554.4 689.7,555.3 689.9,556 690,554.1 690.2,549.7 690.4,552.7 690.5,554.8 690.7,556.3 690.9,557.5 691,558.4 691.2,559.1 691.4,557.1 691.6,552.5 691.7,555.3 691.9,557.4 692.1,558.8 692.2,559.9 692.4,560.7 692.6,561.2 692.8,558.4 692.9,552.2 693.1,555.7 693.3,558.1 693.4,559.8 693.6,560.9 693.8,543.2 693.9,511.4 694.1,514.7 694.3,522.1 694.5,528.1 694.6,533 694.8,537.1 695,538.5 695.1,537.2 695.3,541.7 695.5,545.2 695.7,548 695.8,550.3 696,552.1 696.2,553.6 696.3,554.9 696.5,556 696.7,556.1 696.8,555.1 697,556.6 697.2,557.9 697.4,558.8 697.5,559.6 697.7,560.3 697.9,560.8 698,561.3 698.2,561.7 698.4,560.6 698.6,557.9 698.7,559.6 698.9,560.9 699.1,561.8 699.2,560.1 699.4,555.8 699.6,558.5 699.7,560.4 699.9,561.7 700.1,562.7 700.3,563.4 700.4,563.9 700.6,564.3 700.8,564.6 700.9,562.6 701.1,517 701.3,451.9 701.5,467.1 701.6,480 701.8,491 702,500.3 702.1,508.2 702.3,515.1 702.5,521 702.6,526 702.8,529.8 703,532.2 703.2,536.2 703.3,539.6 703.5,542.4 703.7,544.9 703.8,547 704,548.9 704.2,550.5 704.4,551.9 704.5,553.2 704.7,554.3 704.9,553 705,549.2 705.2,552.3 705.4,554.6 705.5,556.3 705.7,557.7 705.9,558.8 706.1,559.6 706.2,560.4 706.4,561 706.6,561.5 706.7,562 706.9,559.9 707.1,555.3 707.3,558 707.4,560 707.6,561.4 707.8,562.5 707.9,563.2 708.1,563.8 708.3,499.5 708.4,394.9 708.6,416.4 708.8,434.9 709,448.5 709.1,457.3 709.3,471.6 709.5,483.6 709.6,493.7 709.8,502.2 710,509.6 710.2,515.8 710.3,521.3 710.5,525.5 710.7,528.5 710.8,532.6 711,536.1 711.2,539.1 711.3,541.8 711.5,543.6 711.7,544.7 711.9,547 712,548.9 712.2,550.6 712.4,550.9 712.5,549.8 712.7,552.1 712.9,553.9 713.1,555.4 713.2,556.6 713.4,557.7 713.6,558.6 713.7,559.3 713.9,560.1 714.1,559.6 714.2,558 714.4,559.6 714.6,560.8 714.8,561.7 714.9,562.5 715.1,560.7 715.3,556.4 715.4,559.2 715.6,561.2 715.8,562.6 716,563.7 716.1,561.9 716.3,557.2 716.5,560.2 716.6,562.4 716.8,563.9 717,563.8 717.1,562.2 717.3,564 717.5,565.3 717.7,566.2 717.8,566.2 718,525.6 718.2,461.5 718.3,475.5 718.5,487.4 718.7,497.6 718.9,506.3 719,513.9 719.2,520.4 719.4,526 719.5,529.1 719.7,529.8 719.9,535.1 720,539.5 720.2,543.2 720.4,546.2 720.6,548.7 720.7,550.9 720.9,552.8 721.1,551.7 721.2,547.7 721.4,551.6 721.6,554.5 721.8,556.8 721.9,558.5 722.1,559.9 722.3,561.1 722.4,562 722.6,562.8 722.8,563.5 722.9,564.2 723.1,560.8 723.3,553.5 723.5,557.7 723.6,560.6 723.8,562.8 724,564.3 724.1,565.5 724.3,566.3 724.5,563.8 724.7,558 724.8,561.5 725,563.9 725.2,565.7 725.3,566.9 725.5,567.8 725.7,568.5 725.8,569 726,569.4 726.2,533 726.4,472.6 726.5,485.9 726.7,497.2 726.9,506.7 727,514.8 727.2,521.7 727.4,527.6 727.6,532.7 727.7,537.1 727.9,540.9 728.1,543.4 728.2,544.6 728.4,548 728.6,550.8 728.7,553.1 728.9,555.1 729.1,556.8 729.3,558.3 729.4,559.6 729.6,556.6 729.8,549.3 729.9,554.2 730.1,557.7 730.3,560.3 730.5,562.3 730.6,563.8 730.8,564.9 731,561.4 731.1,553.2 731.3,558.1 731.5,561.6 731.6,564 731.8,565.8 732,567.1 732.2,568.1 732.3,568.8 732.5,569.4 732.7,569.9 732.8,570.3 733,569.7 733.2,568 733.3,569.2 733.5,570.1 733.7,570.7 733.9,571.2 734,571.6 734.2,571.9 734.4,572.2 734.5,569.9 734.7,565 734.9,567.6 735.1,569.4 735.2,570.7 735.4,571.6 735.6,572.3 735.7,571.2 735.9,513.6 736.1,426.1 736.2,445.4 736.4,461.8 736.6,475.8 736.8,487.8 736.9,492.3 737.1,489.4 737.3,502.7 737.4,513.1 737.6,521.5 737.8,528.3 738,533.9 738.1,538.6 738.3,542.5 738.5,545.9 738.6,545.5 738.8,541.4 739,546.7 739.1,550.8 739.3,553.9 739.5,556.4 739.7,558.5 739.8,560.2 740,561.6 740.2,562.8 740.3,556.6 740.5,543.1 740.7,550.8 740.9,556.3 741,560.2 741.2,563 741.4,565.1 741.5,566.6 741.7,567.8 741.9,568.7 742,569.5 742.2,568 742.4,564.4 742.6,566.8 742.7,568.6 742.9,569.9 743.1,570.9 743.2,571.6 743.4,572.2 743.6,572.6 743.8,573 743.9,573.4 744.1,566.5 744.3,552.4 744.4,559.5 744.6,564.4 744.8,567.8 744.9,508.2 745.1,409.5 745.3,430.9 745.5,449.1 745.6,464.8 745.8,478.3 746,487.6 746.1,493.1 746.3,503.9 746.5,512.9 746.7,520.4 746.8,526.8 747,532.2 747.2,536.9 747.3,540.9 747.5,539.5 747.7,532.7 747.8,540.1 748,545.7 748.2,550 748.4,553.4 748.5,556.1 748.7,558.3 748.9,560.1 749,557.1 749.2,549.3 749.4,554.9 749.6,558.9 749.7,561.9 749.9,564.1 750.1,565.8 750.2,567.2 750.4,568.3 750.6,569.2 750.7,569.9 750.9,565.9 751.1,557.2 751.3,562.1 751.4,565.7 751.6,568.2 751.8,565.6 751.9,558.1 752.1,563.3 752.3,567 752.5,569.6 752.6,571.4 752.8,572.7 753,573.7 753.1,574.4 753.3,575 753.5,575.5 753.6,575.8 753.8,571.1 754,561.3 754.2,478 754.3,339.7 754.5,370.5 754.7,396.7 754.8,419.1 755,438.4 755.2,454.9 755.4,469.2 755.5,481.5 755.7,489.9 755.9,494.4 756,504.7 756.2,513.3 756.4,520.5 756.5,521.3 756.7,515.8 756.9,525.5 757.1,532.9 757.2,538.8 757.4,543.5 757.6,547.3 757.7,550.5 757.9,553.2 758.1,555.5 758.3,551.3 758.4,540.7 758.6,548.2 758.8,553.6 758.9,557.6 759.1,560.7 759.3,561.8 759.4,561.4 759.6,564 759.8,566 760,567.5 760.1,568.8 760.3,564.5 760.5,554.7 760.6,560.6 760.8,564.7 761,567.7 761.2,569.9 761.3,571.5 761.5,572.7 761.7,573.6 761.8,574.4 762,569.8 762.2,560 762.3,565.4 762.5,569.2 762.7,571.8 762.9,573.7 763,566.8 763.2,551.2 763.4,559.9 763.5,565.9 763.7,570.1 763.9,573 764.1,575 764.2,576.4 764.4,577.5 764.6,578.2 764.7,578.8 764.9,579.3 765.1,577 765.2,572.2 765.4,574.9 765.6,576.8 765.8,578.1 765.9,579 766.1,579.7 766.3,580.2 766.4,577.3 766.6,571.1 766.8,574.5 767,576.8 767.1,578.4 767.3,579.5 767.5,580.3 767.6,580.9 767.8,581.3 768,581.6 768.1,581.8 768.3,582 768.5,581.2 768.7,558 768.8,523.9 769,531.8 769.2,538.5 769.3,544.1 769.5,549 769.7,553.1 769.9,556.7 770,559.7 770.2,561 770.4,560.5 770.5,563.9 770.7,566.5 770.9,568.6 771,570.4 771.2,571.9 771.4,573.1 771.6,574.2 771.7,575.1 771.9,575.9 772.1,574.9 772.2,572.2 772.4,574.4 772.6,576 772.8,577.2 772.9,578.1 773.1,576.9 773.3,573.5 773.4,575.9 773.6,577.6 773.8,578.8 773.9,579.7 774.1,580.4 774.3,580.9 774.5,581.3 774.6,580.7 774.8,578.9 775,580.1 775.1,581 775.3,540.1 775.5,472.6 775.7,486.7 775.8,498.9 776,508.1 776.2,514.6 776.3,523.5 776.5,531.1 776.7,537.5 776.8,542.9 777,547.5 777.2,550.8 777.4,552.9 777.5,556.6 777.7,559.7 777.9,562.3 778,564.5 778.2,565.6 778.4,565.7 778.6,568 778.7,569.8 778.9,571.4 779.1,572.7 779.2,573.8 779.4,574.8 779.6,575.6 779.7,576.4 779.9,577.1 780.1,577.1 780.3,576.6 780.4,577.6 780.6,578.5 780.8,579.2 780.9,579.8 781.1,580.3 781.3,580.7 781.5,578.4 781.6,573.4 781.8,576.3 782,578.4 782.1,579.8 782.3,580.9 782.5,581.7 782.6,582.3 782.8,582.8 783,583.2 783.2,583.5 783.3,582 783.5,578.8 783.7,580.7 783.8,582 784,582.9 784.2,583.6 784.4,584.1 784.5,558.3 784.7,515.4 784.9,523.4 785,529.1 785.2,536.8 785.4,543.2 785.5,548.6 785.7,553.1 785.9,555.7 786.1,556.3 786.2,560.5 786.4,563.9 786.6,566.7 786.7,569 786.9,571 787.1,572.6 787.3,574 787.4,575.3 787.6,576.4 787.8,576.1 787.9,574.6 788.1,576.5 788.3,577.9 788.4,579.1 788.6,580 788.8,580.8 789,581.4 789.1,581.9 789.3,582.4 789.5,582.8 789.6,582.4 789.8,581.3 790,582.3 790.2,583.1 790.3,583.7 790.5,584.1 790.7,581.8 790.8,576.6 791,579.5 791.2,581.5 791.3,583 791.5,584 791.7,584.7 791.9,585.3 792,585.7 792.2,586 792.4,585.5 792.5,584.2 792.7,585.1 792.9,585.7 793.1,586.2 793.2,586.6 793.4,586.9 793.6,586.1 793.7,584.2 793.9,585.3 794.1,586.1 794.2,586.7 794.4,587.1 794.6,587.4 794.8,587.6 794.9,587.5 795.1,587 795.3,587.4 795.4,587.7 795.6,588 795.8,588.1 796,588.3 796.1,588.4 796.3,588.5 796.5,588 796.6,587.1 796.8,587.6 797,588 797.1,588.3 797.3,588.5 797.5,588.2 797.7,587.4 797.8,588 798,588.3 798.2,588.6 798.3,588.8 798.5,589 798.7,589.1 798.9,589.2 799,528.1 799.2,429.1 799.4,449.1 799.5,465.7 799.7,479.2 799.9,492.8 800,504.4 800.2,514.4 800.4,522.9 800.6,530.3 800.7,536.7 800.9,541.6 801.1,544.9 801.2,549.9 801.4,554 801.6,557.6 801.8,559.8 801.9,560.8 802.1,564 802.3,566.6 802.4,568.8 802.6,570.7 802.8,572.3 802.9,573.8 803.1,575.1 803.3,574.8 803.5,573.2 803.6,575.4 803.8,577.1 804,578.4 804.1,579.5 804.3,580.5 804.5,581.3 804.7,581.9 804.8,582.5 805,583.1 805.2,582.3 805.3,580.1 805.5,581.8 805.7,583 805.8,583.9 806,584.7 806.2,585.2 806.4,585.7 806.5,586.1 806.7,586.5 806.9,584.6 807,580.5 807.2,582.9 807.4,584.5 807.5,585.7 807.7,583.3 807.9,577.3 808.1,580.9 808.2,583.5 808.4,585.2 808.6,586.5 808.7,587.4 808.9,588 809.1,588.5 809.3,588.9 809.4,589.1 809.6,587.6 809.8,558.3 809.9,517.5 810.1,527.5 810.3,535.9 810.4,542.9 810.6,546 810.8,545.4 811,552.5 811.1,558.1 811.3,562.6 811.5,566.3 811.6,565 811.8,558.8 812,565.1 812.2,569.7 812.3,573.2 812.5,575.9 812.7,578 812.8,579.6 813,580.9 813.2,582 813.3,581.8 813.5,580.3 813.7,582.1 813.9,583.4 814,584.5 814.2,585.3 814.4,586 814.5,586.5 814.7,587 814.9,587.4 815.1,587.7 815.2,588.1 815.4,584.5 815.6,577.2 815.7,581.1 815.9,583.8 816.1,585.7 816.2,587 816.4,584.8 816.6,579.2 816.8,582.8 816.9,585.2 817.1,586.9 817.3,588.1 817.4,584.2 817.6,575.3 817.8,580.3 818,583.8 818.1,586.1 818.3,587.8 818.5,589 818.6,589.8 818.8,590.4 819,477.3 819.1,293.1 819.3,319.4 819.5,355.2 819.7,385.5 819.8,411.1 820,432.9 820.2,451.6 820.3,467.7 820.5,481.5 820.7,493.4 820.9,503.8 821,507.6 821.2,505.2 821.4,517 821.5,526.4 821.7,534 821.9,540.3 822,545.5 822.2,549.9 822.4,553.7 822.6,557 822.7,559.9 822.9,559 823.1,554.2 823.2,559.6 823.4,563.8 823.6,567 823.8,569.6 823.9,571.7 824.1,571.1 824.3,567.9 824.4,571.5 824.6,574.2 824.8,576.3 824.9,578 825.1,579.3 825.3,580.4 825.5,581.4 825.6,582.2 825.8,576.8 826,565.1 826.1,571.6 826.3,576.2 826.5,579.5 826.7,581.8 826.8,583.5 827,584.8 827.2,585.8 827.3,581 827.5,570.5 827.7,576.4 827.8,580.4 828,583.3 828.2,585.4 828.4,586.8 828.5,587.9 828.7,588.7 828.9,589.3 829,589.8 829.2,586.6 829.4,579.9 829.6,583.6 829.7,586.1 829.9,587.9 830.1,589.1 830.2,586.8 830.4,581 830.6,584.6 830.7,587.1 830.9,533.5 831.1,444.8 831.3,463.8 831.4,480.1 831.6,493.1 831.8,503.1 831.9,514.4 832.1,523.9 832.3,532 832.5,539 832.6,545 832.8,546.7 833,544.3 833.1,551.5 833.3,557.2 833.5,561.8 833.6,565.5 833.8,568.5 834,571.1 834.2,573.3 834.3,575.1 834.5,576.8 834.7,575.6 834.8,571.7 835,575.3 835.2,578 835.4,580.1 835.5,581.7 835.7,583 835.9,584.1 836,585 836.2,585.8 836.4,586.4 836.5,587 836.7,583.5 836.9,575.9 837.1,580.2 837.2,583.3 837.4,585.4 837.6,587 837.7,588.2 837.9,589 838.1,589.7 838.3,587.8 838.4,583.5 838.6,586.2 838.8,588 838.9,589.4 839.1,585.7 839.3,577.1 839.4,582 839.6,585.5 839.8,587.9 840,589.6 840.1,590.8 840.3,591.6 840.5,592.2 840.6,592.7 840.8,593 841,591 841.2,586.6 841.3,589 841.5,590.7 841.7,591.8 841.8,505.3 842,365.9 842.2,394.4 842.3,419 842.5,440.2 842.7,458.5 842.9,470.7 843,477 843.2,492.4 843.4,505.2 843.5,515.9 843.7,524.8 843.9,527.7 844.1,524.8 844.2,534.9 844.4,542.9 844.6,549.3 844.7,554.4 844.9,555.1 845.1,551.5 845.2,558 845.4,562.9 845.6,566.8 845.8,569.9 845.9,568.4 846.1,562.3 846.3,568 846.4,572.2 846.6,575.3 846.8,577.7 847,579.6 847.1,580 847.3,579 847.5,581.1 847.6,582.8 847.8,584.1 848,585.2 848.1,586.1 848.3,586.8 848.5,587.5 848.7,588.1 848.8,588.6 849,589.1 849.2,588.6 849.3,587.1 849.5,588.4 849.7,589.3 849.9,590.1 850,590.7 850.2,591.2 850.4,591.6 850.5,591.9 850.7,592.2 850.9,591.6 851,590 851.2,591.1 851.4,591.9 851.6,592.5 851.7,593 851.9,593.4 852.1,593.7 852.2,593.9 852.4,594.1 852.6,594.3 852.8,594.5 852.9,593.7 853.1,591.9 853.3,592.9 853.4,593.7 853.6,594.2 853.8,594.6 853.9,594.9 854.1,595.1 854.3,595.3 854.5,594 854.6,564.2 854.8,521.6 855,531.6 855.1,540.1 855.3,547.3 855.5,553.4 855.7,558.6 855.8,563.1 856,565 856.2,564.4 856.3,569.1 856.5,572.9 856.7,575.9 856.8,578.4 857,580.5 857.2,582.2 857.4,583.7 857.5,585 857.7,586.1 857.9,585.2 858,582.3 858.2,584.8 858.4,586.7 858.6,588.1 858.7,589.3 858.9,589.6 859.1,589.1 859.2,590.3 859.4,591.2 859.6,591.8 859.7,592.4 859.9,592.8 860.1,593.2 860.3,593.6 860.4,593.9 860.6,594.1 860.8,594.1 860.9,593.8 861.1,594.2 861.3,594.6 861.5,594.9 861.6,595.1 861.8,553.1 862,484.3 862.1,498.4 862.3,510.6 862.5,521.1 862.6,529.7 862.8,536.7 863,543.9 863.2,550 863.3,555.3 863.5,559.9 863.7,563.4 863.8,566.1 864,569.5 864.2,572.4 864.4,574.8 864.5,576.5 864.7,577.5 864.9,579.6 865,581.4 865.2,582.8 865.4,584.1 865.5,585.3 865.7,586.3 865.9,586.4 866.1,585.8 866.2,587.2 866.4,588.3 866.6,589.3 866.7,590 866.9,590.7 867.1,591.2 867.3,591.7 867.4,592.2 867.6,592.3 867.8,592 867.9,592.7 868.1,593.2 868.3,593.6 868.4,594 868.6,594.3 868.8,594.6 869,594.9 869.1,595.1 869.3,595.3 869.5,595.5 869.6,593.8 869.8,590.2 870,592.2 870.2,593.6 870.3,594.6 870.5,595.3 870.7,595.8 870.8,596.2 871,596.5 871.2,596.8 871.3,597 871.5,597.1 871.7,594.6 871.9,589.4 872,592.1 872.2,593.9 872.4,595.2 872.5,596.1 872.7,596.7 872.9,597.2 873.1,597.5 873.2,597.8 873.4,596.2 873.6,592.7 873.7,594.5 873.9,595.8 874.1,596.7 874.2,581.4 874.4,553.9 874.6,556.7 874.8,563 874.9,568.1 875.1,572.3 875.3,575.8 875.4,578.7 875.6,581.2 875.8,583.3 876,584.2 876.1,584.1 876.3,586.2 876.5,587.9 876.6,589.3 876.8,587.3 877,581.8 877.1,585.7 877.3,588.5 877.5,590.5 877.7,592.1 877.8,593.2 878,594.1 878.2,594.8 878.3,595.3 878.5,595.8 878.7,594.4 878.9,591.2 879,593.1 879.2,594.6 879.4,595.6 879.5,591.3 879.7,581.9 879.9,587.1 880,590.7 880.2,593.2 880.4,594.9 880.6,596.1 880.7,597 880.9,597.6 881.1,596.6 881.2,594.1 881.4,595.7 881.6,596.9 881.8,597.7 881.9,598.3 882.1,598.7 882.3,599 882.4,596.3 882.6,590.5 882.8,593.5 882.9,555 883.1,490 883.3,504.4 883.5,516.7 883.6,527.2 883.8,536.1 884,543.8 884.1,550.4 884.3,554.3 884.5,555.5 884.6,561.5 884.8,566.4 885,570.5 885.2,573.9 885.3,576.8 885.5,578.2 885.7,578.4 885.8,581.2 886,583.4 886.2,585.2 886.4,586.8 886.5,588.1 886.7,589.2 886.9,590.2 887,591.1 887.2,591.8 887.4,590.8 887.5,587.9 887.7,590.1 887.9,591.8 888.1,593.1 888.2,594.1 888.4,594.8 888.6,595.5 888.7,596 888.9,594.7 889.1,591.6 889.3,593.7 889.4,595.1 889.6,596.2 889.8,596.9 889.9,597.5 890.1,598 890.3,598.4 890.4,598.7 890.6,599 890.8,599.2 891,596.8 891.1,591.6 891.3,594.3 891.5,596.2 891.6,597.6 891.8,598.5 892,599.2 892.2,599.7 892.3,597 892.5,591 892.7,594.2 892.8,596.4 893,598 893.2,599.1 893.3,578.8 893.5,544.6 893.7,551.2 893.9,555.7 894,562 894.2,567.3 894.4,571.7 894.5,575.5 894.7,577.9 894.9,579.1 895.1,582.2 895.2,584.7 895.4,586.8 895.6,588.5 895.7,590 895.9,591.3 896.1,592.4 896.2,590.9 896.4,586.7 896.6,589.9 896.8,592.2 896.9,593.9 897.1,595.2 897.3,596.2 897.4,597 897.6,597.7 897.8,598.2 898,598.7 898.1,599 898.3,598.8 898.5,597.8 898.6,598.7 898.8,599.4 899,599.9 899.1,600.3 899.3,600.6 899.5,600.9 899.7,601.1 899.8,601.3 900,601.1 900.2,600.6 900.3,547 900.5,459.5 900.7,477.5 900.9,493.1 901,506.5 901.2,518 901.4,528 901.5,536.7 901.7,544.1 901.9,550.6 902,555.4 902.2,558.7 902.4,563.8 902.6,568.1 902.7,571.8 902.9,574.9 903.1,577.7 903.2,580.1 903.4,579.7 903.6,576.6 903.8,580.6 903.9,583.7 904.1,586.1 904.3,588.1 904.4,589.7 904.6,591 904.8,591.4 904.9,591.1 905.1,592.6 905.3,593.8 905.5,594.8 905.6,595.6 905.8,596.3 906,596.9 906.1,597.5 906.3,598 906.5,598.4 906.7,595.1 906.8,588.2 907,592.1 907.2,594.8 907.3,596.7 907.5,598.1 907.7,599.1 907.8,561.8 908,499.6 908.2,513.5 908.4,525.2 908.5,535.2 908.7,543.6 908.9,550.9 909,557.1 909.2,562.4 909.4,563.3 909.6,559.6 909.7,566.8 909.9,572.3 910.1,576.7 910.2,580.2 910.4,577.3 910.6,568.2 910.7,575.7 910.9,581.1 911.1,585.1 911.3,583.2 911.4,575.6 911.6,582.1 911.8,586.8 911.9,590.1 912.1,592.6 912.3,594.4 912.5,595.8 912.6,597 912.8,597.8 913,598.6 913.1,595.7 913.3,589.2 913.5,593 913.6,595.7 913.8,597.6 914,599 914.2,600 914.3,600.8 914.5,601.4 914.7,601.9 914.8,602.3 915,599.9 915.2,594.9 915.4,597.7 915.5,599.6 915.7,601 915.9,602 916,602.7 916.2,603.3 916.4,603.7 916.5,604 916.7,602.8 916.9,600.1 917.1,564.4 917.2,504.4 917.4,517.5 917.6,528.7 917.7,538.3 917.9,546.5 918.1,553.6 918.3,559.7 918.4,564.9 918.6,569.5 918.8,572.6 918.9,574.3 919.1,578.1 919.3,581.3 919.4,584 919.6,586.3 919.8,588.2 920,590 920.1,591.4 920.3,592.8 920.5,593.2 920.6,592.9 920.8,594.5 921,595.8 921.2,596.8 921.3,597 921.5,596.4 921.7,597.7 921.8,598.8 922,599.6 922.2,600.3 922.3,600.9 922.5,601.4 922.7,601.8 922.9,602.2 923,602.6 923.2,600.3 923.4,595.4 923.5,598.2 923.7,600.1 923.9,601.5 924.1,602.5 924.2,603.2 924.4,603.8 924.6,604.2 924.7,604.6 924.9,604.8 925.1,603.6 925.2,600.9 925.4,602.5 925.6,603.6 925.8,604.4 925.9,605 926.1,583 926.3,546.4 926.4,554.2 926.6,556.6 926.8,553.9 927,562.9 927.1,569.8 927.3,575.4 927.5,579.8 927.6,583.4 927.8,586.4 928,588.9 928.1,587.8 928.3,583.2 928.5,587.8 928.7,591.2 928.8,593.8 929,595.8 929.2,596 929.3,594.6 929.5,596.9 929.7,598.6 929.9,599.9 930,600.9 930.2,597.3 930.4,589.3 930.5,594 930.7,597.3 930.9,599.7 931,601.3 931.2,602.5 931.4,603.4 931.6,604.1 931.7,604.6 931.9,605.1 932.1,605.4 932.2,599.2 932.4,586.4 932.6,592.9 932.8,597.3 932.9,600.3 933.1,596.3 933.3,551.2 933.4,501.9 933.6,518 933.8,531 933.9,541.7 934.1,550.6 934.3,552.8 934.5,548.8 934.6,558.9 934.8,566.7 935,572.8 935.1,577.7 935.3,581.6 935.5,584.8 935.7,587.5 935.8,589.8 936,591.7 936.2,587.3 936.3,576.8 936.5,583.8 936.7,588.8 936.8,592.4 937,595.1 937.2,597.1 937.4,598.6 937.5,599.8 937.7,600.8 937.9,598.7 938,593.7 938.2,597 938.4,599.4 938.6,601.1 938.7,602.3 938.9,599.5 939.1,592.6 939.2,596.8 939.4,599.8 939.6,601.8 939.7,603.3 939.9,604.4 940.1,605.2 940.3,601.3 940.4,592.9 940.6,597.5 940.8,600.7 940.9,602.9 941.1,604.5 941.3,605.6 941.5,606.3 941.6,606.9 941.8,607.3 942,603.5 942.1,595.5 942.3,563.9 942.5,508 942.6,521.9 942.8,533.5 943,543.3 943.2,549.6 943.3,552.8 943.5,560.6 943.7,567.1 943.8,572.4 944,571.6 944.2,565 944.4,573.1 944.5,579.2 944.7,583.9 944.9,587.5 945,590.3 945.2,592.6 945.4,594.5 945.5,594.7 945.7,593.3 945.9,595.7 946.1,597.6 946.2,599.1 946.4,600.3 946.6,601.2 946.7,602 946.9,602.7 947.1,603.3 947.3,602.7 947.4,600.9 947.6,602.4 947.8,603.5 947.9,604.4 948.1,605.1 948.3,605.6 948.4,606.1 948.6,606.4 948.8,606.8 949,553.2 949.1,463.6 949.3,485.7 949.5,503.6 949.6,518.3 949.8,530.5 950,540.6 950.2,549.1 950.3,556.3 950.5,562.5 950.7,567.7 950.8,568.9 951,566.1 951.2,572.7 951.3,577.9 951.5,582 951.7,585.3 951.9,588 952,590.3 952.2,587.2 952.4,578.9 952.5,585.1 952.7,589.6 952.9,592.9 953.1,595.4 953.2,597.4 953.4,598.9 953.6,600.1 953.7,596.3 953.9,587.6 954.1,592.9 954.2,596.6 954.4,599.3 954.6,601.2 954.8,602.7 954.9,603.7 955.1,604.6 955.3,604 955.4,602 955.6,603.6 955.8,604.9 956,605.8 956.1,606.4 956.3,607 956.5,607.4 956.6,607.7 956.8,608 957,608.3 957.1,608.5 957.3,604.8 957.5,597.3 957.7,601.1 957.8,603.8 958,605.7 958.2,607 958.3,607.9 958.5,608.6 958.7,609.1 958.9,603.4 959,531.9 959.2,440.7 959.4,464.2 959.5,483.9 959.7,500.4 959.9,514.3 960,526.1 960.2,536.2 960.4,544.8 960.6,548.8 960.7,548.4 960.9,557.2 961.1,564.3 961.2,570 961.4,570.2 961.6,565.1 961.7,572.7 961.9,578.5 962.1,583 962.3,585.1 962.4,585.2 962.6,588.8 962.8,591.6 962.9,593.8 963.1,595.6 963.3,597.1 963.5,598.4 963.6,599.4 963.8,596.5 964,589.7 964.1,594.1 964.3,597.3 964.5,599.6 964.6,601.3 964.8,602.6 965,602.1 965.2,599.8 965.3,601.9 965.5,603.5 965.7,604.7 965.8,605.6 966,602.3 966.2,595.1 966.4,599.3 966.5,602.2 966.7,604.3 966.9,605.7 967,606.8 967.2,590.7 967.4,563.4 967.5,567.8 967.7,569.6 967.9,575.7 968.1,580.7 968.2,584.8 968.4,588.2 968.6,589 968.7,587.4 968.9,591.4 969.1,594.5 969.3,596.9 969.4,598.8 969.6,600.4 969.8,601.6 969.9,602.7 970.1,603.6 970.3,604.4 970.4,605.1 970.6,604.7 970.8,603.2 971,604.7 971.1,605.8 971.3,606.6 971.5,607.3 971.6,607.8 971.8,608.3 972,608.6 972.2,608.9 972.3,607.2 972.5,603.3 972.7,605.5 972.8,607 973,608.1 973.2,608.9 973.3,607.5 973.5,603.9 973.7,606.2 973.9,607.8 974,608.9 974.2,609.6 974.4,610.2 974.5,610.6 974.7,576.2 974.9,518.4 975.1,532 975.2,543.2 975.4,552.5 975.6,560.3 975.7,566.8 975.9,569.4 976.1,568.3 976.2,575.1 976.4,580.5 976.6,584.7 976.8,588.2 976.9,591.1 977.1,593.5 977.3,595.5 977.4,597.2 977.6,596.2 977.8,592.6 978,596 978.1,598.6 978.3,600.6 978.5,599.7 978.6,595.9 978.8,599.3 979,601.7 979.1,603.5 979.3,604.8 979.5,605.8 979.7,606.6 979.8,607.3 980,603.8 980.2,596.3 980.3,600.5 980.5,603.4 980.7,605.5 980.9,606.9 981,608 981.2,608.8 981.4,609.4 981.5,609.8 981.7,610.2 981.9,610.5 982,608 982.2,580.3 982.4,545.9 982.6,555.3 982.7,563.2 982.9,569.7 983.1,575.2 983.2,579.8 983.4,579.9 983.6,575.4 983.8,582.1 983.9,587.1 984.1,591 984.3,594 984.4,596.5 984.6,598.5 984.8,600.1 984.9,601.5 985.1,602.6 985.3,603.6 985.5,602.4 985.6,599 985.8,601.6 986,603.6 986.1,605.1 986.3,606.2 986.5,607 986.7,607.7 986.8,608.3 987,604.1 987.2,595.2 987.3,600 987.5,603.3 987.7,605.7 987.8,607.3 988,608.5 988.2,609.4 988.4,610 988.5,610.5 988.7,610.9 988.9,605.8 989,595.2 989.2,600.6 989.4,604.3 989.6,606.8 989.7,576.1 989.9,523.9 990.1,535.6 990.2,540.1 990.4,537.8 990.6,550.2 990.7,559.9 990.9,567.6 991.1,573.9 991.3,579 991.4,583.2 991.6,586.7 991.8,589.7 991.9,592.2 992.1,594.4 992.3,590.6 992.5,580.9 992.6,587.8 992.8,592.7 993,596.4 993.1,599.1 993.3,601.1 993.5,602.7 993.6,602.7 993.8,601.2 994,603.3 994.2,604.8 994.3,606 994.5,606.9 994.7,607.6 994.8,608.2 995,608.7 995.2,609.2 995.4,603.6 995.5,592.2 995.7,598.1 995.9,602.2 996,605.1 996.2,607.1 996.4,608.5 996.5,609.6 996.7,606.5 996.9,599.5 997.1,603.5 997.2,606.4 997.4,608.3 997.6,609.7 997.7,610.7 997.9,593.6 998.1,561.2 998.3,560.3 998.4,569.1 998.6,576.2 998.8,581.7 998.9,586.3 999.1,590 999.3,593 999.4,595.6 999.6,594.6 999.8,590.2 1000,594.7 1000.1,598.1 1000.3,600.7 1000.5,602.7 1000.6,604.2 1000.8,603.6 1001,600.9 1001.2,603.5 1001.3,605.5 1001.5,606.9 1001.7,608 1001.8,608.8 1002,609.5 1002.2,610 1002.3,609.2 1002.5,607.2 1002.7,608.7 1002.9,609.8 1003,610.6 1003.2,611.2 1003.4,611.6 1003.5,610.3 1003.7,607.2 1003.9,609 1004.1,610.4 1004.2,574.2 1004.4,514.2 1004.6,527 1004.7,535.6 1004.9,540.4 1005.1,550.7 1005.2,559.2 1005.4,566.2 1005.6,572.1 1005.8,577.1 1005.9,581.4 1006.1,585 1006.3,585.9 1006.4,584.2 1006.6,588.6 1006.8,592.1 1007,594.9 1007.1,597.2 1007.3,599.1 1007.5,600.7 1007.6,602 1007.8,603.2 1008,604.2 1008.1,605 1008.3,602.9 1008.5,597.8 1008.7,601.2 1008.8,603.7 1009,605.5 1009.2,606.9 1009.3,607.9 1009.5,608.7 1009.7,609.4 1009.9,609.9 1010,610.4 1010.2,610.8 1010.4,608.2 1010.5,602.7 1010.7,605.8 1010.9,607.9 1011,609.5 1011.2,610.6 1011.4,611.4 1011.6,608.3 1011.7,562.2 1011.9,501.9 1012.1,517.5 1012.2,530.6 1012.4,541.5 1012.6,550.8 1012.8,557.2 1012.9,561 1013.1,568.1 1013.3,574 1013.4,578.9 1013.6,583 1013.8,586.5 1013.9,589.5 1014.1,592.1 1014.3,594.4 1014.5,596.4 1014.6,598.1 1014.8,598.9 1015,598.8 1015.1,600.7 1015.3,602.3 1015.5,603.6 1015.7,604.7 1015.8,605.6 1016,605.7 1016.2,605 1016.3,606.4 1016.5,607.4 1016.7,608.3 1016.8,609 1017,609.6 1017.2,610.1 1017.4,610.5 1017.5,610.9 1017.7,611.3 1017.9,611.6 1018,610.6 1018.2,608.2 1018.4,609.8 1018.6,610.9 1018.7,611.7 1018.9,612.3 1019.1,610.9 1019.2,607.4 1019.4,609.5 1019.6,611.1 1019.7,612.1 1019.9,611.9 1020.1,610.4 1020.3,611.9 1020.4,612.9 1020.6,613.6 1020.8,614.1 1020.9,614.5 1021.1,614.8 1021.3,568.8 1021.5,492.6 1021.6,506.2 1021.8,520.4 1022,532.4 1022.1,542.7 1022.3,551.5 1022.5,559.1 1022.6,565.6 1022.8,569.5 1023,570.9 1023.2,576.8 1023.3,581.6 1023.5,585.6 1023.7,589 1023.8,591.8 1024,591 1024.2,586.5 1024.4,591.5 1024.5,595.3 1024.7,598.1 1024.9,600.4 1025,602.2 1025.2,603.7 1025.4,604.9 1025.5,606 1025.7,606.9 1025.9,605.6 1026.1,602.2 1026.2,604.8 1026.4,606.7 1026.6,608.1 1026.7,609.2 1026.9,610.1 1027.1,610.8 1027.3,611.4 1027.4,611.8 1027.6,612.3 1027.8,610.7 1027.9,607.2 1028.1,609.3 1028.3,610.9 1028.4,612 1028.6,612.8 1028.8,613.4 1029,613.9 1029.1,614.3 1029.3,614.6 1029.5,614.8 1029.6,613.5 1029.8,610.4 1030,612.2 1030.2,613.4 1030.3,614.2 1030.5,584.2 1030.7,534.1 1030.8,544.7 1031,553.8 1031.2,561.6 1031.3,567.3 1031.5,571 1031.7,577 1031.9,582 1032,586.2 1032.2,589.8 1032.4,592.8 1032.5,595.4 1032.7,597.7 1032.9,598.4 1033.1,597.6 1033.2,600.3 1033.4,602.5 1033.6,604.2 1033.7,605.7 1033.9,606.9 1034.1,607.9 1034.2,608.8 1034.4,607.3 1034.6,603.5 1034.8,606.2 1034.9,608.3 1035.1,609.8 1035.3,610.9 1035.4,611.8 1035.6,612.5 1035.8,613 1035.9,613.5 1036.1,613.4 1036.3,612.9 1036.5,613.6 1036.6,614.2 1036.8,614.6 1037,615 1037.1,613.4 1037.3,609.8 1037.5,611.9 1037.7,613.3 1037.8,614.4 1038,615.1 1038.2,615.7 1038.3,616.1 1038.5,616.4 1038.7,616.7 1038.8,615.9 1039,614 1039.2,615.1 1039.4,615.9 1039.5,571.3 1039.7,498 1039.9,511.6 1040,521.2 1040.2,534.1 1040.4,544.9 1040.6,554.1 1040.7,560.8 1040.9,565.3 1041.1,572 1041.2,577.5 1041.4,582.2 1041.6,586.2 1041.7,589.6 1041.9,590.7 1042.1,589.7 1042.3,593.6 1042.4,596.8 1042.6,599.3 1042.8,601.3 1042.9,603.1 1043.1,604.5 1043.3,605.8 1043.5,606.9 1043.6,604.3 1043.8,598.2 1044,602.3 1044.1,605.3 1044.3,607.5 1044.5,609.1 1044.6,610.4 1044.8,611.4 1045,612.2 1045.2,612.8 1045.3,613.4 1045.5,613.8 1045.7,610.6 1045.8,603.7 1046,607.5 1046.2,610.2 1046.4,612.1 1046.5,613.5 1046.7,614.5 1046.9,610.8 1047,602.6 1047.2,607.2 1047.4,610.4 1047.5,612.7 1047.7,614.3 1047.9,615.4 1048.1,616.2 1048.2,616.8 1048.4,617.2 1048.6,617.6 1048.7,617.8 1048.9,616 1049.1,612.1 1049.3,614.2 1049.4,615.7 1049.6,601.8 1049.8,577.9 1049.9,583.5 1050.1,588.1 1050.3,592.1 1050.4,595.5 1050.6,593 1050.8,584.6 1051,592 1051.1,597.4 1051.3,601.4 1051.5,604.5 1051.6,606.9 1051.8,606.7 1052,604.1 1052.2,607.2 1052.3,609.6 1052.5,611.3 1052.7,612.6 1052.8,613.6 1053,612.8 1053.2,610.2 1053.3,612.3 1053.5,613.9 1053.7,603 1053.9,584 1054,588.7 1054.2,592.7 1054.4,594.1 1054.5,593.1 1054.7,597.5 1054.9,600.9 1055.1,603.6 1055.2,602.3 1055.4,597.3 1055.6,602.1 1055.7,605.6 1055.9,608.2 1056.1,610.1 1056.2,611.7 1056.4,612.8 1056.6,612.2 1056.8,609.8 1056.9,612 1057.1,613.5 1057.3,614.7 1057.4,615.6 1057.6,616.3 1057.8,616.8 1058,617.3 1058.1,617.7 1058.3,616.4 1058.5,613.4 1058.6,615.2 1058.8,616.5 1059,617.4 1059.1,612.5 1059.3,602.1 1059.5,607.7 1059.7,611.6 1059.8,614.2 1060,616.1 1060.2,617.4 1060.3,614 1060.5,606.2 1060.7,610.7 1060.9,613.8 1061,616 1061.2,617.5 1061.4,618.5 1061.5,619.3 1061.7,619.8 1061.9,620.2 1062,581 1062.2,510.5 1062.4,511.7 1062.6,528.9 1062.7,542.6 1062.9,553.7 1063.1,562.9 1063.2,570.4 1063.4,576.7 1063.6,582.1 1063.8,586.6 1063.9,590.4 1064.1,593.7 1064.3,591.3 1064.4,583.2 1064.6,590.4 1064.8,595.8 1064.9,599.8 1065.1,602.9 1065.3,605.3 1065.5,607.3 1065.6,608.8 1065.8,610.1 1066,611.2 1066.1,606.5 1066.3,596.1 1066.5,602.2 1066.7,606.5 1066.8,609.6 1067,611.8 1067.2,613.4 1067.3,614.6 1067.5,615.6 1067.7,616.3 1067.8,616.9 1068,614.6 1068.2,609.5 1068.4,612.5 1068.5,614.7 1068.7,616.2 1068.9,617.3 1069,615 1069.2,609.5 1069.4,612.9 1069.6,615.3 1069.7,616.9 1069.9,618.1 1070.1,619 1070.2,616.4 1070.4,610.6 1070.6,614 1070.7,566.4 1070.9,486.5 1071.1,501.3 1071.3,510.6 1071.4,526.1 1071.6,538.9 1071.8,549.6 1071.9,558.6 1072.1,562.4 1072.3,561.2 1072.5,570.4 1072.6,577.6 1072.8,583.4 1073,588.2 1073.1,592.1 1073.3,595.4 1073.5,596.7 1073.6,596.2 1073.8,599.7 1074,602.4 1074.2,604.6 1074.3,606.5 1074.5,606.4 1074.7,604.4 1074.8,607.1 1075,609.2 1075.2,610.8 1075.4,612.1 1075.5,613.2 1075.7,614 1075.9,614.8 1076,615.5 1076.2,616 1076.4,616.6 1076.5,611.5 1076.7,600.9 1076.9,606.6 1077.1,610.6 1077.2,613.4 1077.4,615.3 1077.6,616.8 1077.7,616.9 1077.9,615.9 1078.1,617.4 1078.3,618.5 1078.4,619.2 1078.6,618.2 1078.8,615.5 1078.9,617.4 1079.1,618.8 1079.3,619.7 1079.4,620.4 1079.6,617.8 1079.8,611.9 1080,572.5 1080.1,505.1 1080.3,520.8 1080.5,534.1 1080.6,545.3 1080.8,555 1081,563.2 1081.2,570.3 1081.3,576.3 1081.5,578.5 1081.7,576.9 1081.8,583.8 1082,589.3 1082.2,593.6 1082.3,595.6 1082.5,595.3 1082.7,599.4 1082.9,602.5 1083,605.1 1083.2,602.3 1083.4,594.3 1083.5,600.4 1083.7,604.8 1083.9,608 1084.1,610.5 1084.2,612.3 1084.4,612 1084.6,609.6 1084.7,612.2 1084.9,614.1 1085.1,615.6 1085.2,616.7 1085.4,617.6 1085.6,618.3 1085.8,615.9 1085.9,610.5 1086.1,613.8 1086.3,616.1 1086.4,617.7 1086.6,618.9 1086.8,619.8 1087,620.4 1087.1,621 1087.3,618.3 1087.5,612.6 1087.6,615.8 1087.8,618 1088,619.6 1088.1,620.7 1088.3,621.5 1088.5,622.1 1088.7,620.9 1088.8,617.8 1089,619.7 1089.2,621 1089.3,622 1089.5,622.7 1089.7,623.2 1089.9,609.4 1090,586.2 1090.2,591.2 1090.4,595.5 1090.5,593.4 1090.7,585 1090.9,593.2 1091,599.3 1091.2,603.9 1091.4,607.4 1091.6,605.7 1091.7,598.9 1091.9,604.9 1092.1,609.3 1092.2,612.4 1092.4,614.7 1092.6,616.5 1092.8,617.8 1092.9,618.9 1093.1,619.7 1093.3,620.4 1093.4,621 1093.6,620.4 1093.8,618.7 1093.9,620.1 1094.1,621.1 1094.3,621.8 1094.5,618.8 1094.6,612.2 1094.8,616 1095,618.6 1095.1,620.4 1095.3,621.7 1095.5,622.6 1095.7,623.3 1095.8,623.8 1096,612.3 1096.2,589.4 1096.3,586.6 1096.5,593.6 1096.7,599 1096.8,603.3 1097,606.6 1097.2,609.4 1097.4,611.6 1097.5,613.4 1097.7,615 1097.9,616.3 1098,617.4 1098.2,615.2 1098.4,609.8 1098.6,613.5 1098.7,616.2 1098.9,618.1 1099.1,619.6 1099.2,618.3 1099.4,614.3 1099.6,617.3 1099.7,619.3 1099.9,620.8 1100.1,621.9 1100.3,621.9 1100.4,620.8 1100.6,622.1 1100.8,602.3 1100.9,568.7 1101.1,575.9 1101.3,581.6 1101.5,587.3 1101.6,592.2 1101.8,596.4 1102,600 1102.1,603.1 1102.3,605.7 1102.5,608 1102.6,610 1102.8,611.7 1103,610.7 1103.2,607.1 1103.3,610.6 1103.5,613.3 1103.7,615.4 1103.8,616.9 1104,618.2 1104.2,619.2 1104.4,620.1 1104.5,620.8 1104.7,621.4 1104.9,618.6 1105,612.5 1105.2,616.1 1105.4,618.6 1105.5,620.4 1105.7,621.7 1105.9,622.6 1106.1,623.3 1106.2,621.2 1106.4,616.3 1106.6,619.2 1106.7,621.3 1106.9,622.7 1107.1,623.7 1107.3,624.5 1107.4,625 1107.6,625.4 1107.8,622.7 1107.9,616.8 1108.1,620 1108.3,622.2 1108.4,623.7 1108.6,603 1108.8,567.8 1109,575.7 1109.1,578.4 1109.3,576.3 1109.5,584.9 1109.6,591.6 1109.8,597 1110,601.3 1110.2,604.8 1110.3,607.7 1110.5,610.1 1110.7,609.6 1110.8,606.3 1111,610.2 1111.2,613.1 1111.3,615.3 1111.5,617.1 1111.7,618.5 1111.9,619.6 1112,620.5 1112.2,621.3 1112.4,622 1112.5,620.6 1112.7,617.1 1112.9,619.5 1113,621.2 1113.2,622.4 1113.4,623.3 1113.6,624 1113.7,624.1 1113.9,623.6 1114.1,624.4 1114.2,625.1 1114.4,625.5 1114.6,625.9 1114.8,626.2 1114.9,626.5 1115.1,624.6 1115.3,620.6 1115.4,622.8 1115.6,624.3 1115.8,625.4 1115.9,626.2 1116.1,626.7 1116.3,627.1 1116.5,610.7 1116.6,583.3 1116.8,587.7 1117,589.9 1117.1,595.6 1117.3,600.2 1117.5,604 1117.7,607.2 1117.8,609.8 1118,612.1 1118.2,614 1118.3,615.7 1118.5,614.7 1118.7,611 1118.8,614.4 1119,617 1119.2,618.9 1119.4,620.4 1119.5,621.6 1119.7,622.6 1119.9,623.3 1120,624 1120.2,624.5 1120.4,623.5 1120.6,620.9 1120.7,622.7 1120.9,624 1121.1,625 1121.2,625.7 1121.4,626.2 1121.6,626.7 1121.7,627 1121.9,626.4 1122.1,624.7 1122.3,625.8 1122.4,577.1 1122.6,496.8 1122.8,512.5 1122.9,524.7 1123.1,538.1 1123.3,549.5 1123.5,559.3 1123.6,567.6 1123.8,574.7 1124,578.8 1124.1,580.1 1124.3,586.6 1124.5,592 1124.6,596.4 1124.8,600 1125,603.1 1125.2,602.5 1125.3,598.3 1125.5,603.4 1125.7,607.3 1125.8,610.3 1126,609.7 1126.2,605.8 1126.4,610.2 1126.5,613.4 1126.7,615.8 1126.9,617.6 1127,619.1 1127.2,618.2 1127.4,615.1 1127.5,617.8 1127.7,619.9 1127.9,621.4 1128.1,622.5 1128.2,623.4 1128.4,624.1 1128.6,623.6 1128.7,621.8 1128.9,623.3 1129.1,624.5 1129.3,625.3 1129.4,626 1129.6,626.5 1129.8,626.9 1129.9,627.3 1130.1,627.6 1130.3,627.8 1130.4,627.8 1130.6,627.6 1130.8,628 1131,628.3 1131.1,628.6 1131.3,628.3 1131.5,627.4 1131.6,628.1 1131.8,628.6 1132,629 1132.2,629.3 1132.3,595 1132.5,538.4 1132.7,550.1 1132.8,560.1 1133,568.8 1133.2,575.4 1133.3,580.1 1133.5,586.5 1133.7,591.9 1133.9,596.5 1134,597.3 1134.2,594.6 1134.4,600.4 1134.5,604.9 1134.7,608.4 1134.9,611.3 1135.1,613.6 1135.2,615.5 1135.4,617.1 1135.6,618.5 1135.7,619.7 1135.9,618.8 1136.1,615.9 1136.2,618.5 1136.4,620.5 1136.6,622 1136.8,623.2 1136.9,617.5 1137.1,605.1 1137.3,612 1137.4,616.9 1137.6,620.2 1137.8,622.7 1138,624.4 1138.1,622.7 1138.3,617.6 1138.5,621.2 1138.6,623.7 1138.8,625.5 1139,626.8 1139.1,627.7 1139.3,628.4 1139.5,628.9 1139.7,629.3 1139.8,627.6 1140,623.9 1140.2,626.1 1140.3,627.5 1140.5,628.6 1140.7,629.4 1140.9,629.9 1141,630.3 1141.2,630.6 1141.4,630.9 1141.5,625.5 1141.7,614.7 1141.9,620.1 1142,623.8 1142.2,626.4 1142.4,628.2 1142.6,629.4 1142.7,630.2 1142.9,630.9 1143.1,605.9 1143.2,563.4 1143.4,574 1143.6,582.6 1143.8,589.6 1143.9,594.6 1144.1,597.9 1144.3,602.7 1144.4,606.6 1144.6,609.9 1144.8,612.6 1144.9,614.9 1145.1,616.9 1145.3,618.6 1145.5,617.2 1145.6,612.7 1145.8,616.5 1146,619.4 1146.1,621.5 1146.3,623.2 1146.5,624.5 1146.7,625.5 1146.8,626.3 1147,626.4 1147.2,625.9 1147.3,626.9 1147.5,627.7 1147.7,628.4 1147.8,628.9 1148,626.8 1148.2,622 1148.4,624.7 1148.5,626.7 1148.7,628.1 1148.9,629.1 1149,629.8 1149.2,627.9 1149.4,623.2 1149.6,626 1149.7,627.9 1149.9,629.2 1150.1,630.2 1150.2,630.9 1150.4,631.4 1150.6,631.8 1150.7,632.1 1150.9,632.3 1151.1,614.4 1151.3,581.3 1151.4,581 1151.6,589.5 1151.8,596.2 1151.9,601.6 1152.1,606 1152.3,609.7 1152.5,609.8 1152.6,606.6 1152.8,611.5 1153,615.2 1153.1,618.1 1153.3,620.3 1153.5,622.1 1153.6,623.5 1153.8,624.7 1154,625.7 1154.2,624.1 1154.3,619.9 1154.5,622.9 1154.7,625 1154.8,626.6 1155,627.8 1155.2,628.7 1155.4,629.4 1155.5,629.9 1155.7,630.4 1155.9,630.8 1156,626.7 1156.2,618.2 1156.4,525.5 1156.5,373.4 1156.7,406.5 1156.9,434.8 1157.1,459.1 1157.2,480 1157.4,498 1157.6,513.6 1157.7,527.1 1157.9,538.7 1158.1,545.3 1158.3,547 1158.4,558.1 1158.6,567.2 1158.8,574.7 1158.9,581 1159.1,586.3 1159.3,590.9 1159.4,594.8 1159.6,598.3 1159.8,599.5 1160,598.4 1160.1,602.6 1160.3,605.9 1160.5,608.7 1160.6,611 1160.8,612.9 1161,614.6 1161.2,613.6 1161.3,609.8 1161.5,613.4 1161.7,616.2 1161.8,618.3 1162,620 1162.2,621.3 1162.3,622.5 1162.5,623.4 1162.7,624.3 1162.9,623.2 1163,620.3 1163.2,622.6 1163.4,624.3 1163.5,625.6 1163.7,622.4 1163.9,614.8 1164.1,619.5 1164.2,622.8 1164.4,625.2 1164.6,623.2 1164.7,617.1 1164.9,621.5 1165.1,624.7 1165.2,626.9 1165.4,628.5 1165.6,625.3 1165.8,617.7 1165.9,622.4 1166.1,625.7 1166.3,628 1166.4,629.6 1166.6,628.4 1166.8,624.5 1167,627.4 1167.1,629.4 1167.3,630.8 1167.5,631.8 1167.6,632.5 1167.8,633 1168,633.4 1168.1,633.7 1168.3,634 1168.5,627.7 1168.7,614.9 1168.8,621.2 1169,625.6 1169.2,628.5 1169.3,630.6 1169.5,632 1169.7,523.6 1169.9,347 1170,374.5 1170.2,408.5 1170.4,437.2 1170.5,461.6 1170.7,482.5 1170.9,500.4 1171,515.7 1171.2,526.1 1171.4,531.6 1171.6,544.4 1171.7,554.9 1171.9,563.8 1172.1,571.3 1172.2,577.8 1172.4,581.8 1172.6,583.7 1172.8,589.3 1172.9,594 1173.1,597.9 1173.3,601.3 1173.4,604.2 1173.6,606.7 1173.8,609 1173.9,611 1174.1,612.8 1174.3,611.8 1174.5,608.2 1174.6,612 1174.8,614.9 1175,617.1 1175.1,619 1175.3,618.6 1175.5,616 1175.7,618.9 1175.8,621.1 1176,622.8 1176.2,624.1 1176.3,625.2 1176.5,626.1 1176.7,626.8 1176.8,627.5 1177,624.7 1177.2,618.5 1177.4,622.2 1177.5,624.9 1177.7,626.8 1177.9,626.3 1178,623.6 1178.2,626.2 1178.4,628.1 1178.6,629.4 1178.7,630.4 1178.9,631.2 1179.1,627 1179.2,617.9 1179.4,622.9 1179.6,626.3 1179.7,628.7 1179.9,630.4 1180.1,631.6 1180.3,632.5 1180.4,633.1 1180.6,633.6 1180.8,632.4 1180.9,629.6 1181.1,631.4 1181.3,632.6 1181.5,633.4 1181.6,631.9 1181.8,628.2 1182,630.5 1182.1,632.2 1182.3,633.3 1182.5,634.1 1182.6,634.7 1182.8,635.1 1183,635.4 1183.2,635.1 1183.3,634.1 1183.5,634.8 1183.7,635.3 1183.8,635.6 1184,635.9 1184.2,636.1 1184.4,636.2 1184.5,634.6 1184.7,631.1 1184.9,632.9 1185,634.1 1185.2,635 1185.4,634.4 1185.5,632.4 1185.7,633.8 1185.9,634.8 1186.1,635.5 1186.2,636 1186.4,636.3 1186.6,636.6 1186.7,636.7 1186.9,636.9 1187.1,637 1187.2,636.3 1187.4,634.9 1187.6,618.4 1187.8,590.4 1187.9,596.5 1188.1,601.8 1188.3,606.2 1188.4,610.1 1188.6,613.3 1188.8,616.1 1189,618.6 1189.1,617.3 1189.3,612.5 1189.5,617.3 1189.6,620.8 1189.8,623.5 1190,625.5 1190.1,627.2 1190.3,628.4 1190.5,624 1190.7,613.9 1190.8,619.9 1191,624 1191.2,627 1191.3,629.1 1191.5,630.6 1191.7,631.8 1191.9,632.6 1192,633.3 1192.2,633.8 1192.4,633.1 1192.5,631.3 1192.7,632.6 1192.9,633.5 1193,634.2 1193.2,634.7 1193.4,635.1 1193.6,635.4 1193.7,601.1 1193.9,543.4 1194.1,557.2 1194.2,568.5 1194.4,577.9 1194.6,585.7 1194.8,592.2 1194.9,597.7 1195.1,602.3 1195.3,600 1195.4,590.7 1195.6,599.7 1195.8,606.4 1195.9,611.5 1196.1,615.3 1196.3,618.3 1196.5,620.7 1196.6,622.7 1196.8,624.3 1197,625.6 1197.1,623.7 1197.3,618.6 1197.5,622.4 1197.7,625.1 1197.8,627.1 1198,621.6 1198.2,608.8 1198.3,616.3 1198.5,621.6 1198.7,625.3 1198.8,627.9 1199,629.8 1199.2,631.2 1199.4,627.7 1199.5,619.5 1199.7,624.3 1199.9,627.7 1200,630.1 1200.2,631.8 1200.4,633 1200.6,633.8 1200.7,626.1 1200.9,609.9 1201.1,618.3 1201.2,624 1201.4,627.9 1201.6,630.6 1201.7,632.5 1201.9,633.9 1202.1,634.8 1202.3,635.5 1202.4,635.9 1202.6,636.3 1202.8,635.1 1202.9,632.4 1203.1,633.9 1203.3,635 1203.5,635.8 1203.6,636.3 1203.8,610.7 1204,564.3 1204.1,565.3 1204.3,576.7 1204.5,585.8 1204.6,593.2 1204.8,597.5 1205,599.1 1205.2,604.9 1205.3,609.6 1205.5,613.3 1205.7,616.4 1205.8,613.7 1206,605.5 1206.2,612.2 1206.4,617.2 1206.5,620.8 1206.7,623.6 1206.9,620.4 1207,611.5 1207.2,617.8 1207.4,622.3 1207.5,625.5 1207.7,627.8 1207.9,629.5 1208.1,630.8 1208.2,631.8 1208.4,632.6 1208.6,633.2 1208.7,633.7 1208.9,628.6 1209.1,618.1 1209.3,623.6 1209.4,627.5 1209.6,630.1 1209.8,632 1209.9,633.4 1210.1,634.3 1210.3,635 1210.4,635.5 1210.6,635.9 1210.8,607.1 1211,558 1211.1,570.7 1211.3,580.8 1211.5,589 1211.6,595.8 1211.8,601.3 1212,600.7 1212.2,594.1 1212.3,602.4 1212.5,608.7 1212.7,613.5 1212.8,617.1 1213,620 1213.2,622.4 1213.3,624.3 1213.5,625.8 1213.7,627.1 1213.9,623.2 1214,614.2 1214.2,619.8 1214.4,623.8 1214.5,626.7 1214.7,628.8 1214.9,630.3 1215.1,631.5 1215.2,632.4 1215.4,629.8 1215.6,623.6 1215.7,627.3 1215.9,629.9 1216.1,631.8 1216.2,633.1 1216.4,634.1 1216.6,634.8 1216.8,632.2 1216.9,626.4 1217.1,629.7 1217.3,632.1 1217.4,633.7 1217.6,634.8 1217.8,633.2 1218,628.8 1218.1,631.6 1218.3,633.6 1218.5,635 1218.6,635.9 1218.8,607.1 1219,558.4 1219.1,570.1 1219.3,579.8 1219.5,587.8 1219.7,594.5 1219.8,597.2 1220,596.2 1220.2,602.9 1220.3,608.3 1220.5,612.5 1220.7,615.9 1220.9,618.7 1221,621.1 1221.2,623 1221.4,623 1221.5,621.2 1221.7,624 1221.9,626.1 1222,627.8 1222.2,629.2 1222.4,628.5 1222.6,626 1222.7,628.4 1222.9,630.2 1223.1,631.5 1223.2,632.5 1223.4,633.3 1223.6,633.3 1223.8,632.4 1223.9,633.5 1224.1,634.3 1224.3,635 1224.4,635.5 1224.6,635.9 1224.8,636.3 1224.9,635.6 1225.1,634.1 1225.3,635.2 1225.5,635.9 1225.6,636.5 1225.8,637 1226,637.3 1226.1,620 1226.3,591.3 1226.5,597.4 1226.7,601.1 1226.8,602.6 1227,607.9 1227.2,612.2 1227.3,615.8 1227.5,618.7 1227.7,621.2 1227.8,623.3 1228,625.1 1228.2,625.3 1228.4,624 1228.5,626.5 1228.7,628.3 1228.9,629.8 1229,631 1229.2,630.1 1229.4,627.2 1229.6,629.7 1229.7,631.5 1229.9,632.8 1230.1,631.8 1230.2,628.3 1230.4,631 1230.6,632.8 1230.7,634.2 1230.9,635.2 1231.1,635.9 1231.3,636.5 1231.4,636.9 1231.6,636.2 1231.8,634.5 1231.9,584.9 1232.1,503.1 1232.3,520.5 1232.5,534.3 1232.6,545.1 1232.8,557.1 1233,567.2 1233.1,575.8 1233.3,583.2 1233.5,589.5 1233.6,595 1233.8,599.8 1234,599.5 1234.2,594.2 1234.3,601.6 1234.5,607.2 1234.7,611.6 1234.8,615.1 1235,617.9 1235.2,620.2 1235.4,622.2 1235.5,623.8 1235.7,625.3 1235.9,625.4 1236,624.3 1236.2,626.3 1236.4,627.9 1236.5,629.2 1236.7,630.2 1236.9,631.1 1237.1,631.9 1237.2,632.5 1237.4,630.8 1237.6,626.7 1237.7,629.4 1237.9,631.3 1238.1,632.7 1238.3,633.8 1238.4,634.6 1238.6,630.7 1238.8,622.1 1238.9,626.9 1239.1,630.2 1239.3,632.6 1239.4,634.2 1239.6,635.4 1239.8,636.3 1240,635.4 1240.1,632.8 1240.3,634.6 1240.5,636 1240.6,636.9 1240.8,637.6 1241,638.1 1241.2,638.5 1241.3,638.8 1241.5,579.5 1241.7,483.2 1241.8,502.9 1242,517.9 1242.2,528.6 1242.3,543.1 1242.5,555.3 1242.7,565.6 1242.9,574.4 1243,578 1243.2,576.8 1243.4,586.1 1243.5,593.4 1243.7,599.3 1243.9,604.1 1244.1,608.1 1244.2,611.5 1244.4,609.7 1244.6,602.8 1244.7,609.4 1244.9,614.4 1245.1,618.1 1245.2,621 1245.4,623.3 1245.6,625.1 1245.8,625.2 1245.9,623.7 1246.1,626.1 1246.3,628 1246.4,629.4 1246.6,630.6 1246.8,631.6 1247,632.4 1247.1,630.9 1247.3,627.2 1247.5,629.8 1247.6,631.7 1247.8,633.1 1248,634.2 1248.1,635 1248.3,635.7 1248.5,636.2 1248.7,633.3 1248.8,626.9 1249,630.5 1249.2,633 1249.3,634.7 1249.5,636 1249.7,636.9 1249.9,606.5 1250,555.9 1250.2,566.7 1250.4,575.9 1250.5,583.9 1250.7,589.9 1250.9,594.2 1251,600.1 1251.2,605 1251.4,609.2 1251.6,612.8 1251.7,615.9 1251.9,618.6 1252.1,619.7 1252.2,619.4 1252.4,622.3 1252.6,624.6 1252.8,626.5 1252.9,628.1 1253.1,629.4 1253.3,630.5 1253.4,631.5 1253.6,632.4 1253.8,633.1 1253.9,632 1254.1,628.9 1254.3,631.2 1254.5,632.9 1254.6,634.2 1254.8,635.2 1255,636 1255.1,633.8 1255.3,628.6 1255.5,631.7 1255.7,634 1255.8,635.6 1256,635.6 1256.2,634.4 1256.3,636 1256.5,637.2 1256.7,638.1 1256.8,638.7 1257,639.2 1257.2,639.6 1257.4,636.4 1257.5,629.7 1257.7,606.8 1257.9,565.5 1258,576.1 1258.2,584.9 1258.4,592.3 1258.6,598.6 1258.7,600.5 1258.9,598.2 1259.1,605.4 1259.2,610.9 1259.4,615.3 1259.6,618.9 1259.7,621.8 1259.9,624.2 1260.1,624.4 1260.3,622.5 1260.4,625.6 1260.6,628.1 1260.8,630 1260.9,631.5 1261.1,629.7 1261.3,624.8 1261.5,628.5 1261.6,631.1 1261.8,633.1 1262,634.6 1262.1,635.7 1262.3,636.5 1262.5,637.2 1262.6,637.8 1262.8,638.3 1263,638.7 1263.2,636.5 1263.3,631.9 1263.5,634.5 1263.7,636.4 1263.8,637.7 1264,636.8 1264.2,633.8 1264.3,636.1 1264.5,637.8 1264.7,638.9 1264.9,639.7 1265,640.3 1265.2,630.2 1265.4,613 1265.5,613.8 1265.7,610.8 1265.9,616.6 1266.1,621.1 1266.2,624.5 1266.4,627.3 1266.6,629.5 1266.7,631.3 1266.9,628.5 1267.1,621.1 1267.2,626.3 1267.4,630 1267.6,632.6 1267.8,634.6 1267.9,636.1 1268.1,637.2 1268.3,638 1268.4,638.7 1268.6,638.3 1268.8,636.7 1269,638 1269.1,639 1269.3,639.8 1269.5,626.1 1269.6,602.9 1269.8,605.5 1270,604.9 1270.1,611.1 1270.3,616 1270.5,619.9 1270.7,623.1 1270.8,625.7 1271,627.9 1271.2,629.8 1271.3,631.3 1271.5,632.7 1271.7,631.7 1271.9,628.5 1272,631.4 1272.2,633.5 1272.4,635.1 1272.5,636.4 1272.7,637.3 1272.9,638.1 1273,638.8 1273.2,639.3 1273.4,639.7 1273.6,637.3 1273.7,632.1 1273.9,635.1 1274.1,637.2 1274.2,638.7 1274.4,639.7 1274.6,640.5 1274.8,641.1 1274.9,638.8 1275.1,633.7 1275.3,636.6 1275.4,638.6 1275.6,640 1275.8,641 1275.9,641.7 1276.1,642.2 1276.3,642.6 1276.5,642.9 1276.6,643.1 1276.8,638.4 1277,628.6 1277.1,633.5 1277.3,636.8 1277.5,639.1 1277.7,640.7 1277.8,641.8 1278,642.6 1278.2,603.7 1278.3,537.5 1278.5,546.8 1278.7,560.2 1278.8,571.4 1279,580.8 1279.2,588.7 1279.4,595.4 1279.5,601.2 1279.7,606.1 1279.9,610.4 1280,614 1280.2,617.2 1280.4,616.4 1280.6,611.6 1280.7,617.1 1280.9,621.4 1281.1,624.6 1281.2,627.2 1281.4,629.3 1281.6,630.9 1281.7,631.2 1281.9,630.1 1282.1,632.2 1282.3,633.8 1282.4,635.1 1282.6,636.1 1282.8,637 1282.9,635.6 1283.1,631.9 1283.3,634.5 1283.5,636.3 1283.6,637.7 1283.8,638.8 1284,639.6 1284.1,636.5 1284.3,629.6 1284.5,633.6 1284.6,636.3 1284.8,638.3 1285,639.7 1285.2,640.7 1285.3,641.5 1285.5,642 1285.7,641.4 1285.8,639.7 1286,641 1286.2,641.9 1286.4,642.6 1286.5,643 1286.7,643.4 1286.9,643.7 1287,641.8 1287.2,637.7 1287.4,639.9 1287.5,641.4 1287.7,591.1 1287.9,508 1288.1,525.5 1288.2,540.5 1288.4,553.4 1288.6,564.5 1288.7,573.1 1288.9,579.3 1289.1,587.4 1289.3,594.2 1289.4,600 1289.6,605 1289.8,609.3 1289.9,610.1 1290.1,607.4 1290.3,613 1290.4,617.4 1290.6,620.9 1290.8,623.8 1291,626.1 1291.1,628 1291.3,629.7 1291.5,631.1 1291.6,632.4 1291.8,633.5 1292,633.4 1292.2,632.3 1292.3,634 1292.5,635.4 1292.7,636.5 1292.8,637.4 1293,637.3 1293.2,636.2 1293.3,637.6 1293.5,638.7 1293.7,639.6 1293.9,640.2 1294,640.8 1294.2,641.3 1294.4,641.7 1294.5,642.1 1294.7,642.4 1294.9,642.7 1295.1,642.2 1295.2,640.9 1295.4,641.9 1295.6,642.6 1295.7,643.2 1295.9,643.6 1296.1,643.9 1296.2,644.2 1296.4,644.5 1296.6,644.7 1296.8,644.9 1296.9,642 1297.1,636 1297.3,639 1297.4,641.2 1297.6,642.7 1297.8,643.7 1298,644.5 1298.1,644.5 1298.3,643.9 1298.5,588.9 1298.6,498.9 1298.8,517.6 1299,533.7 1299.1,547.5 1299.3,559.4 1299.5,567.9 1299.7,573.2 1299.8,582.6 1300,590.5" fill="none" stroke="#0a72bd" stroke-width="4.5" stroke-linejoin="round" stroke-linecap="round"/></g>
<g fill="#262626">
<text x="114.5" y="1031.6" font-size="33" text-anchor="middle">0</text>
<text x="240.6" y="1031.6" font-size="33" text-anchor="middle">1000</text>
<text x="366.6" y="1031.6" font-size="33" text-anchor="middle">2000</text>
<text x="492.6" y="1031.6" font-size="33" text-anchor="middle">3000</text>
<text x="618.7" y="1031.6" font-size="33" text-anchor="middle">4000</text>
<text x="744.8" y="1031.6" font-size="33" text-anchor="middle">5000</text>
<text x="870.8" y="1031.6" font-size="33" text-anchor="middle">6000</text>
<text x="996.9" y="1031.6" font-size="33" text-anchor="middle">7000</text>
<text x="1122.9" y="1031.6" font-size="33" text-anchor="middle">8000</text>
<text x="1249.0" y="1031.6" font-size="33" text-anchor="middle">9000</text>
<text x="1375.0" y="1031.6" font-size="33" text-anchor="middle">10000</text>
<text x="43.9" y="1005.4" font-size="33">10<tspan dy="-15.8" dx="0" font-size="26.2">0</tspan></text>
<text x="43.9" y="682.4" font-size="33">10<tspan dy="-15.8" dx="0" font-size="26.2">1</tspan></text>
<text x="43.9" y="359.4" font-size="33">10<tspan dy="-15.8" dx="0" font-size="26.2">2</tspan></text>
<text x="43.9" y="36.4" font-size="33">10<tspan dy="-15.8" dx="0" font-size="26.2">3</tspan></text>
<text x="744.8" y="1074.6" font-size="36.4" text-anchor="middle">Training epochs</text>
<text transform="translate(28.0 504.0) rotate(-90)" font-size="36.4" text-anchor="middle">Training loss</text>
<text x="617.7" y="767.2" font-size="20.2" text-anchor="middle">6000</text>
<text x="703.0" y="767.2" font-size="20.2" text-anchor="middle">6500</text>
<text x="788.3" y="767.2" font-size="20.2" text-anchor="middle">7000</text>
<text x="873.6" y="767.2" font-size="20.2" text-anchor="middle">7500</text>
<text x="958.9" y="767.2" font-size="20.2" text-anchor="middle">8000</text>
<text x="1044.1" y="767.2" font-size="20.2" text-anchor="middle">8500</text>
<text x="1129.4" y="767.2" font-size="20.2" text-anchor="middle">9000</text>
<text x="1214.7" y="767.2" font-size="20.2" text-anchor="middle">9500</text>
<text x="1300.0" y="767.2" font-size="20.2" text-anchor="middle">10000</text>
<text x="609.2" y="746.1" font-size="20.2" text-anchor="end">1.5</text>
<text x="609.2" y="652.4" font-size="20.2" text-anchor="end">1.55</text>
<text x="609.2" y="561.6" font-size="20.2" text-anchor="end">1.6</text>
<text x="609.2" y="473.6" font-size="20.2" text-anchor="end">1.65</text>
<text x="609.2" y="388.3" font-size="20.2" text-anchor="end">1.7</text>
<text x="609.2" y="305.4" font-size="20.2" text-anchor="end">1.75</text>
<text x="609.2" y="224.9" font-size="20.2" text-anchor="end">1.8</text>
<text x="958.9" y="799.9" font-size="28.8" text-anchor="middle">Training epochs</text>
<text transform="translate(553 480.5) rotate(-90)" font-size="28.8" text-anchor="middle">Training loss</text>
</g>
</svg>
</body>
</html>
